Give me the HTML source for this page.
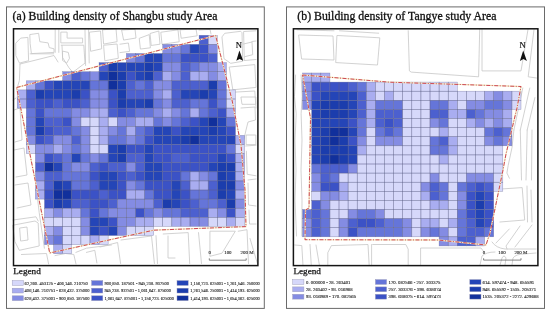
<!DOCTYPE html>
<html><head><meta charset="utf-8"><style>
html,body{margin:0;padding:0;background:#fff;width:550px;height:315px;overflow:hidden}
svg{display:block;filter:blur(0.35px)}
</style></head><body>
<svg width="550" height="315" viewBox="0 0 550 315">
<style>
.t{font-family:"Liberation Serif",serif;font-size:11.8px;fill:#111;stroke:#111;stroke-width:0.3}
.lgh{font-family:"Liberation Serif",serif;font-size:9.2px;fill:#111;stroke:#111;stroke-width:0.25}
.lg{font-family:"Liberation Serif",serif;font-size:4.7px;fill:#2a2a2a;stroke:#2a2a2a;stroke-width:0.12}
.na{font-family:"Liberation Serif",serif;font-size:8.6px;fill:#111;stroke:#111;stroke-width:0.2}
.sb{font-family:"Liberation Serif",serif;font-size:4.9px;fill:#222;stroke:#222;stroke-width:0.1}
.st{fill:none;stroke:#c6c6c6;stroke-width:0.8;stroke-linejoin:round;stroke-linecap:round}
</style>
<rect width="550" height="315" fill="#fff"/>
<!-- panels -->
<rect x="6.5" y="6.9" width="257.8" height="301.5" fill="none" stroke="#6a6a6a" stroke-width="1"/>
<rect x="286.5" y="6.9" width="258" height="301.5" fill="none" stroke="#6a6a6a" stroke-width="1"/>
<text x="12.5" y="19.6" class="t" textLength="205" lengthAdjust="spacingAndGlyphs">(a) Building density of Shangbu study Area</text>
<text x="297.3" y="19.6" class="t" textLength="199.2" lengthAdjust="spacingAndGlyphs">(b) Building density of Tangye study Area</text>
<!-- LEFT MAP -->
<g class="st"><path d="M16,42.9 L20.7,38.1 L27.9,37.4 L28.6,60.7 L19.5,63.1 L16,56 Z"/><path d="M30.2,34.5 L38.6,33.3 L39.8,41.7 L48.1,42.9 L49.3,47.6 L54,48.8 L54,52.4 L31.4,53.6 L30.2,44 Z"/><path d="M55.2,29.8 L55.2,52.4"/><path d="M58.8,29.8 L58.8,52.4"/><path d="M61.2,32.1 L67.1,32.1 L67.1,38.1 L82.6,38.1 L82.6,42.9 L61.2,42.9 Z"/><path d="M85,29.8 L85.6,65.5"/><path d="M88.6,29.8 L89.2,63"/><path d="M61.2,45.2 L83.8,45.2 L85,63.1 L72.8,72.3"/><path d="M62,45.5 L62.6,57.6 L69,67.8 L72.8,72.3"/><path d="M62.9,51.2 L68.3,52.4 L69.5,58.3 L66.7,63.1 L62.9,60.7 Z"/><path d="M89.8,32.1 L100.5,31 L101.7,48.8 L91,51.2 Z"/><path d="M102.9,29.8 L116,28.6 L117.1,41.7 L104,44 Z"/><path d="M104,45.2 L117.1,44 L118.3,58.3 L105.2,60.7 Z"/><path d="M20,64 L54,55.5 L58,62"/><path d="M20,64 L19.4,80.5 L17.5,86.9"/><path d="M30.2,53.8 L53.7,53.8"/><path d="M120,44.2 L128.4,43 L129.6,51.4 L120,52.6"/><path d="M139.6,38.2 L149.2,34.6 L150.4,47.8 L140.8,49 Z"/><path d="M150.4,33.4 L158.8,31 L160,44.2 L151.6,45.4 Z"/><path d="M161.2,32.2 L178,29.8 L179.2,41.8 L162.4,44.2 Z"/><path d="M180.4,29.8 L196,28.9 L197.2,35.8 L181.6,38.2 Z"/><path d="M199,30 L210,29.4 L211,34"/><path d="M122,30 L135,29.2 L136,38 L124,40 Z"/><path d="M222.7,36 L224.7,33.3 L240.7,31.3 L242,32.7 L242.7,61.3 L230.7,63.3 L224,58.7 L222,37.3 Z"/><path d="M243.6,32 L244.3,60"/><path d="M243.6,44 L252,42 L252.7,54.7 L244.7,56.7"/><path d="M244,31.5 L256,30.8"/><path d="M252,41.5 L256,41"/><path d="M244.5,60.5 L256,59.5"/><path d="M229.6,67 L254.8,64.6 L256,87.4 L233.2,89.8 Z"/><path d="M233.2,92.2 L254.8,91 L256,108"/><path d="M241.3,97 L255.8,97 L255.8,104.3 L242.4,104.3 Z"/><path d="M241,108 L255,107 L255.5,120 L248,122 L246,130 L244,139"/><path d="M246.5,135 L255.8,135 L255.8,144.6 L246.5,144.6 Z"/><path d="M245.7,146 L256,145.2"/><path d="M246.4,151.2 L247.2,174.3 L256,175.8"/><path d="M248,180 L256,179"/><path d="M248,183 L248.5,205 L256,206"/><path d="M249,210 L249.5,224 L256,224"/><path d="M13,100 L16,98"/><path d="M14,110 L20,108 L22,140 L15,142"/><path d="M14,150 L24,148 L27,175 L16,177"/><path d="M15,185 L28,183 L31,205 L17,208"/><path d="M37.7,200 L39.2,212.6 L44.4,248.2"/><path d="M13,220 L36,216.8 L38.2,221"/><path d="M13,225.2 L35,221 L38.2,223 L39.2,246 L19.3,250.3 L15.1,242 Z"/><path d="M20,228 L27,227 L28,240 L21,241 Z"/><path d="M21.4,254.5 L46.5,253.5 L48.6,264"/><path d="M55,255.6 L65.4,253.5 L73.8,254.5 L76,264"/><path d="M75.9,252.4 L86.4,248.2 L111.5,245"/><path d="M86.4,252.4 L94.8,250.3 L96.9,263"/><path d="M100,247 L117.6,242.5 L120.6,263.5"/><path d="M121,240 L151.5,236 L154.4,263.5"/><path d="M156,235.6 L157.5,263.5"/><path d="M163.2,234 L188.2,232.6 L189.7,263.5"/><path d="M168,236 L168,258 L175,258"/><path d="M198.5,232.6 L201.5,263.5"/><path d="M210.3,231.2 L235.3,231.2 L222,253.2 L210.3,256.2 Z"/><path d="M238.2,231.2 L247,229.7 L248.5,263.5"/><path d="M250,238.5 L257.4,263.5"/></g>
<g><rect x="199.10" y="35.30" width="9.10" height="9.10" fill="#4c60cf"/>
<rect x="208.19" y="35.30" width="9.10" height="9.10" fill="#d6d8fa"/>
<rect x="162.72" y="44.40" width="9.10" height="9.10" fill="#848ce3"/>
<rect x="171.81" y="44.40" width="9.10" height="9.10" fill="#848ce3"/>
<rect x="180.91" y="44.40" width="9.10" height="9.10" fill="#6575d9"/>
<rect x="190.00" y="44.40" width="9.10" height="9.10" fill="#2445b7"/>
<rect x="199.10" y="44.40" width="9.10" height="9.10" fill="#3b52c6"/>
<rect x="208.19" y="44.40" width="9.10" height="9.10" fill="#848ce3"/>
<rect x="126.34" y="53.50" width="9.10" height="9.10" fill="#848ce3"/>
<rect x="135.44" y="53.50" width="9.10" height="9.10" fill="#6575d9"/>
<rect x="144.53" y="53.50" width="9.10" height="9.10" fill="#2445b7"/>
<rect x="153.62" y="53.50" width="9.10" height="9.10" fill="#2445b7"/>
<rect x="162.72" y="53.50" width="9.10" height="9.10" fill="#6575d9"/>
<rect x="171.81" y="53.50" width="9.10" height="9.10" fill="#6575d9"/>
<rect x="180.91" y="53.50" width="9.10" height="9.10" fill="#3b52c6"/>
<rect x="190.00" y="53.50" width="9.10" height="9.10" fill="#3b52c6"/>
<rect x="199.10" y="53.50" width="9.10" height="9.10" fill="#3b52c6"/>
<rect x="208.19" y="53.50" width="9.10" height="9.10" fill="#4c60cf"/>
<rect x="99.06" y="62.60" width="9.10" height="9.10" fill="#4c60cf"/>
<rect x="108.15" y="62.60" width="9.10" height="9.10" fill="#1b3dad"/>
<rect x="117.25" y="62.60" width="9.10" height="9.10" fill="#2445b7"/>
<rect x="126.34" y="62.60" width="9.10" height="9.10" fill="#2445b7"/>
<rect x="135.44" y="62.60" width="9.10" height="9.10" fill="#2445b7"/>
<rect x="144.53" y="62.60" width="9.10" height="9.10" fill="#1b3dad"/>
<rect x="153.62" y="62.60" width="9.10" height="9.10" fill="#2445b7"/>
<rect x="162.72" y="62.60" width="9.10" height="9.10" fill="#848ce3"/>
<rect x="171.81" y="62.60" width="9.10" height="9.10" fill="#848ce3"/>
<rect x="180.91" y="62.60" width="9.10" height="9.10" fill="#4c60cf"/>
<rect x="190.00" y="62.60" width="9.10" height="9.10" fill="#6575d9"/>
<rect x="199.10" y="62.60" width="9.10" height="9.10" fill="#848ce3"/>
<rect x="208.19" y="62.60" width="9.10" height="9.10" fill="#848ce3"/>
<rect x="217.29" y="62.60" width="9.10" height="9.10" fill="#a9adf0"/>
<rect x="62.67" y="71.70" width="9.10" height="9.10" fill="#848ce3"/>
<rect x="71.77" y="71.70" width="9.10" height="9.10" fill="#4c60cf"/>
<rect x="80.87" y="71.70" width="9.10" height="9.10" fill="#6575d9"/>
<rect x="89.96" y="71.70" width="9.10" height="9.10" fill="#848ce3"/>
<rect x="99.06" y="71.70" width="9.10" height="9.10" fill="#2445b7"/>
<rect x="108.15" y="71.70" width="9.10" height="9.10" fill="#11309c"/>
<rect x="117.25" y="71.70" width="9.10" height="9.10" fill="#1b3dad"/>
<rect x="126.34" y="71.70" width="9.10" height="9.10" fill="#3b52c6"/>
<rect x="135.44" y="71.70" width="9.10" height="9.10" fill="#2445b7"/>
<rect x="144.53" y="71.70" width="9.10" height="9.10" fill="#1b3dad"/>
<rect x="153.62" y="71.70" width="9.10" height="9.10" fill="#4c60cf"/>
<rect x="162.72" y="71.70" width="9.10" height="9.10" fill="#a9adf0"/>
<rect x="171.81" y="71.70" width="9.10" height="9.10" fill="#848ce3"/>
<rect x="180.91" y="71.70" width="9.10" height="9.10" fill="#4c60cf"/>
<rect x="190.00" y="71.70" width="9.10" height="9.10" fill="#a9adf0"/>
<rect x="199.10" y="71.70" width="9.10" height="9.10" fill="#a9adf0"/>
<rect x="208.19" y="71.70" width="9.10" height="9.10" fill="#848ce3"/>
<rect x="217.29" y="71.70" width="9.10" height="9.10" fill="#a9adf0"/>
<rect x="26.30" y="80.80" width="9.10" height="9.10" fill="#a9adf0"/>
<rect x="35.39" y="80.80" width="9.10" height="9.10" fill="#6575d9"/>
<rect x="44.48" y="80.80" width="9.10" height="9.10" fill="#3b52c6"/>
<rect x="53.58" y="80.80" width="9.10" height="9.10" fill="#2445b7"/>
<rect x="62.67" y="80.80" width="9.10" height="9.10" fill="#2445b7"/>
<rect x="71.77" y="80.80" width="9.10" height="9.10" fill="#2445b7"/>
<rect x="80.87" y="80.80" width="9.10" height="9.10" fill="#2445b7"/>
<rect x="89.96" y="80.80" width="9.10" height="9.10" fill="#6575d9"/>
<rect x="99.06" y="80.80" width="9.10" height="9.10" fill="#6575d9"/>
<rect x="108.15" y="80.80" width="9.10" height="9.10" fill="#11309c"/>
<rect x="117.25" y="80.80" width="9.10" height="9.10" fill="#1b3dad"/>
<rect x="126.34" y="80.80" width="9.10" height="9.10" fill="#4c60cf"/>
<rect x="135.44" y="80.80" width="9.10" height="9.10" fill="#6575d9"/>
<rect x="144.53" y="80.80" width="9.10" height="9.10" fill="#4c60cf"/>
<rect x="153.62" y="80.80" width="9.10" height="9.10" fill="#848ce3"/>
<rect x="162.72" y="80.80" width="9.10" height="9.10" fill="#848ce3"/>
<rect x="171.81" y="80.80" width="9.10" height="9.10" fill="#4c60cf"/>
<rect x="180.91" y="80.80" width="9.10" height="9.10" fill="#4c60cf"/>
<rect x="190.00" y="80.80" width="9.10" height="9.10" fill="#4c60cf"/>
<rect x="199.10" y="80.80" width="9.10" height="9.10" fill="#4c60cf"/>
<rect x="208.19" y="80.80" width="9.10" height="9.10" fill="#1b3dad"/>
<rect x="217.29" y="80.80" width="9.10" height="9.10" fill="#6575d9"/>
<rect x="17.20" y="89.90" width="9.10" height="9.10" fill="#a9adf0"/>
<rect x="26.30" y="89.90" width="9.10" height="9.10" fill="#4c60cf"/>
<rect x="35.39" y="89.90" width="9.10" height="9.10" fill="#1b3dad"/>
<rect x="44.48" y="89.90" width="9.10" height="9.10" fill="#2445b7"/>
<rect x="53.58" y="89.90" width="9.10" height="9.10" fill="#2445b7"/>
<rect x="62.67" y="89.90" width="9.10" height="9.10" fill="#2445b7"/>
<rect x="71.77" y="89.90" width="9.10" height="9.10" fill="#1b3dad"/>
<rect x="80.87" y="89.90" width="9.10" height="9.10" fill="#3b52c6"/>
<rect x="89.96" y="89.90" width="9.10" height="9.10" fill="#848ce3"/>
<rect x="99.06" y="89.90" width="9.10" height="9.10" fill="#848ce3"/>
<rect x="108.15" y="89.90" width="9.10" height="9.10" fill="#3b52c6"/>
<rect x="117.25" y="89.90" width="9.10" height="9.10" fill="#1b3dad"/>
<rect x="126.34" y="89.90" width="9.10" height="9.10" fill="#4c60cf"/>
<rect x="135.44" y="89.90" width="9.10" height="9.10" fill="#4c60cf"/>
<rect x="144.53" y="89.90" width="9.10" height="9.10" fill="#4c60cf"/>
<rect x="153.62" y="89.90" width="9.10" height="9.10" fill="#848ce3"/>
<rect x="162.72" y="89.90" width="9.10" height="9.10" fill="#a9adf0"/>
<rect x="171.81" y="89.90" width="9.10" height="9.10" fill="#4c60cf"/>
<rect x="180.91" y="89.90" width="9.10" height="9.10" fill="#2445b7"/>
<rect x="190.00" y="89.90" width="9.10" height="9.10" fill="#2445b7"/>
<rect x="199.10" y="89.90" width="9.10" height="9.10" fill="#1b3dad"/>
<rect x="208.19" y="89.90" width="9.10" height="9.10" fill="#2445b7"/>
<rect x="217.29" y="89.90" width="9.10" height="9.10" fill="#6575d9"/>
<rect x="226.38" y="89.90" width="9.10" height="9.10" fill="#d6d8fa"/>
<rect x="17.20" y="99.00" width="9.10" height="9.10" fill="#a9adf0"/>
<rect x="26.30" y="99.00" width="9.10" height="9.10" fill="#4c60cf"/>
<rect x="35.39" y="99.00" width="9.10" height="9.10" fill="#3b52c6"/>
<rect x="44.48" y="99.00" width="9.10" height="9.10" fill="#3b52c6"/>
<rect x="53.58" y="99.00" width="9.10" height="9.10" fill="#4c60cf"/>
<rect x="62.67" y="99.00" width="9.10" height="9.10" fill="#3b52c6"/>
<rect x="71.77" y="99.00" width="9.10" height="9.10" fill="#3b52c6"/>
<rect x="80.87" y="99.00" width="9.10" height="9.10" fill="#4c60cf"/>
<rect x="89.96" y="99.00" width="9.10" height="9.10" fill="#848ce3"/>
<rect x="99.06" y="99.00" width="9.10" height="9.10" fill="#848ce3"/>
<rect x="108.15" y="99.00" width="9.10" height="9.10" fill="#3b52c6"/>
<rect x="117.25" y="99.00" width="9.10" height="9.10" fill="#1b3dad"/>
<rect x="126.34" y="99.00" width="9.10" height="9.10" fill="#2445b7"/>
<rect x="135.44" y="99.00" width="9.10" height="9.10" fill="#2445b7"/>
<rect x="144.53" y="99.00" width="9.10" height="9.10" fill="#1b3dad"/>
<rect x="153.62" y="99.00" width="9.10" height="9.10" fill="#6575d9"/>
<rect x="162.72" y="99.00" width="9.10" height="9.10" fill="#848ce3"/>
<rect x="171.81" y="99.00" width="9.10" height="9.10" fill="#4c60cf"/>
<rect x="180.91" y="99.00" width="9.10" height="9.10" fill="#4c60cf"/>
<rect x="190.00" y="99.00" width="9.10" height="9.10" fill="#6575d9"/>
<rect x="199.10" y="99.00" width="9.10" height="9.10" fill="#6575d9"/>
<rect x="208.19" y="99.00" width="9.10" height="9.10" fill="#3b52c6"/>
<rect x="217.29" y="99.00" width="9.10" height="9.10" fill="#6575d9"/>
<rect x="226.38" y="99.00" width="9.10" height="9.10" fill="#d6d8fa"/>
<rect x="26.30" y="108.10" width="9.10" height="9.10" fill="#6575d9"/>
<rect x="35.39" y="108.10" width="9.10" height="9.10" fill="#3b52c6"/>
<rect x="44.48" y="108.10" width="9.10" height="9.10" fill="#6575d9"/>
<rect x="53.58" y="108.10" width="9.10" height="9.10" fill="#6575d9"/>
<rect x="62.67" y="108.10" width="9.10" height="9.10" fill="#6575d9"/>
<rect x="71.77" y="108.10" width="9.10" height="9.10" fill="#848ce3"/>
<rect x="80.87" y="108.10" width="9.10" height="9.10" fill="#848ce3"/>
<rect x="89.96" y="108.10" width="9.10" height="9.10" fill="#a9adf0"/>
<rect x="99.06" y="108.10" width="9.10" height="9.10" fill="#a9adf0"/>
<rect x="108.15" y="108.10" width="9.10" height="9.10" fill="#4c60cf"/>
<rect x="117.25" y="108.10" width="9.10" height="9.10" fill="#3b52c6"/>
<rect x="126.34" y="108.10" width="9.10" height="9.10" fill="#4c60cf"/>
<rect x="135.44" y="108.10" width="9.10" height="9.10" fill="#6575d9"/>
<rect x="144.53" y="108.10" width="9.10" height="9.10" fill="#6575d9"/>
<rect x="153.62" y="108.10" width="9.10" height="9.10" fill="#848ce3"/>
<rect x="162.72" y="108.10" width="9.10" height="9.10" fill="#a9adf0"/>
<rect x="171.81" y="108.10" width="9.10" height="9.10" fill="#848ce3"/>
<rect x="180.91" y="108.10" width="9.10" height="9.10" fill="#6575d9"/>
<rect x="190.00" y="108.10" width="9.10" height="9.10" fill="#a9adf0"/>
<rect x="199.10" y="108.10" width="9.10" height="9.10" fill="#6575d9"/>
<rect x="208.19" y="108.10" width="9.10" height="9.10" fill="#4c60cf"/>
<rect x="217.29" y="108.10" width="9.10" height="9.10" fill="#3b52c6"/>
<rect x="226.38" y="108.10" width="9.10" height="9.10" fill="#a9adf0"/>
<rect x="26.30" y="117.20" width="9.10" height="9.10" fill="#6575d9"/>
<rect x="35.39" y="117.20" width="9.10" height="9.10" fill="#2445b7"/>
<rect x="44.48" y="117.20" width="9.10" height="9.10" fill="#4c60cf"/>
<rect x="53.58" y="117.20" width="9.10" height="9.10" fill="#4c60cf"/>
<rect x="62.67" y="117.20" width="9.10" height="9.10" fill="#3b52c6"/>
<rect x="71.77" y="117.20" width="9.10" height="9.10" fill="#848ce3"/>
<rect x="80.87" y="117.20" width="9.10" height="9.10" fill="#d6d8fa"/>
<rect x="89.96" y="117.20" width="9.10" height="9.10" fill="#d6d8fa"/>
<rect x="99.06" y="117.20" width="9.10" height="9.10" fill="#a9adf0"/>
<rect x="108.15" y="117.20" width="9.10" height="9.10" fill="#d6d8fa"/>
<rect x="117.25" y="117.20" width="9.10" height="9.10" fill="#848ce3"/>
<rect x="126.34" y="117.20" width="9.10" height="9.10" fill="#848ce3"/>
<rect x="135.44" y="117.20" width="9.10" height="9.10" fill="#a9adf0"/>
<rect x="144.53" y="117.20" width="9.10" height="9.10" fill="#a9adf0"/>
<rect x="153.62" y="117.20" width="9.10" height="9.10" fill="#6575d9"/>
<rect x="162.72" y="117.20" width="9.10" height="9.10" fill="#848ce3"/>
<rect x="171.81" y="117.20" width="9.10" height="9.10" fill="#6575d9"/>
<rect x="180.91" y="117.20" width="9.10" height="9.10" fill="#4c60cf"/>
<rect x="190.00" y="117.20" width="9.10" height="9.10" fill="#3b52c6"/>
<rect x="199.10" y="117.20" width="9.10" height="9.10" fill="#2445b7"/>
<rect x="208.19" y="117.20" width="9.10" height="9.10" fill="#11309c"/>
<rect x="217.29" y="117.20" width="9.10" height="9.10" fill="#2445b7"/>
<rect x="226.38" y="117.20" width="9.10" height="9.10" fill="#6575d9"/>
<rect x="26.30" y="126.30" width="9.10" height="9.10" fill="#6575d9"/>
<rect x="35.39" y="126.30" width="9.10" height="9.10" fill="#1b3dad"/>
<rect x="44.48" y="126.30" width="9.10" height="9.10" fill="#3b52c6"/>
<rect x="53.58" y="126.30" width="9.10" height="9.10" fill="#4c60cf"/>
<rect x="62.67" y="126.30" width="9.10" height="9.10" fill="#4c60cf"/>
<rect x="71.77" y="126.30" width="9.10" height="9.10" fill="#6575d9"/>
<rect x="80.87" y="126.30" width="9.10" height="9.10" fill="#848ce3"/>
<rect x="89.96" y="126.30" width="9.10" height="9.10" fill="#d6d8fa"/>
<rect x="99.06" y="126.30" width="9.10" height="9.10" fill="#a9adf0"/>
<rect x="108.15" y="126.30" width="9.10" height="9.10" fill="#848ce3"/>
<rect x="117.25" y="126.30" width="9.10" height="9.10" fill="#6575d9"/>
<rect x="126.34" y="126.30" width="9.10" height="9.10" fill="#a9adf0"/>
<rect x="135.44" y="126.30" width="9.10" height="9.10" fill="#6575d9"/>
<rect x="144.53" y="126.30" width="9.10" height="9.10" fill="#4c60cf"/>
<rect x="153.62" y="126.30" width="9.10" height="9.10" fill="#2445b7"/>
<rect x="162.72" y="126.30" width="9.10" height="9.10" fill="#2445b7"/>
<rect x="171.81" y="126.30" width="9.10" height="9.10" fill="#3b52c6"/>
<rect x="180.91" y="126.30" width="9.10" height="9.10" fill="#2445b7"/>
<rect x="190.00" y="126.30" width="9.10" height="9.10" fill="#2445b7"/>
<rect x="199.10" y="126.30" width="9.10" height="9.10" fill="#2445b7"/>
<rect x="208.19" y="126.30" width="9.10" height="9.10" fill="#1b3dad"/>
<rect x="217.29" y="126.30" width="9.10" height="9.10" fill="#2445b7"/>
<rect x="226.38" y="126.30" width="9.10" height="9.10" fill="#3b52c6"/>
<rect x="26.30" y="135.40" width="9.10" height="9.10" fill="#848ce3"/>
<rect x="35.39" y="135.40" width="9.10" height="9.10" fill="#3b52c6"/>
<rect x="44.48" y="135.40" width="9.10" height="9.10" fill="#4c60cf"/>
<rect x="53.58" y="135.40" width="9.10" height="9.10" fill="#848ce3"/>
<rect x="62.67" y="135.40" width="9.10" height="9.10" fill="#848ce3"/>
<rect x="71.77" y="135.40" width="9.10" height="9.10" fill="#4c60cf"/>
<rect x="80.87" y="135.40" width="9.10" height="9.10" fill="#848ce3"/>
<rect x="89.96" y="135.40" width="9.10" height="9.10" fill="#d6d8fa"/>
<rect x="99.06" y="135.40" width="9.10" height="9.10" fill="#a9adf0"/>
<rect x="108.15" y="135.40" width="9.10" height="9.10" fill="#6575d9"/>
<rect x="117.25" y="135.40" width="9.10" height="9.10" fill="#6575d9"/>
<rect x="126.34" y="135.40" width="9.10" height="9.10" fill="#848ce3"/>
<rect x="135.44" y="135.40" width="9.10" height="9.10" fill="#6575d9"/>
<rect x="144.53" y="135.40" width="9.10" height="9.10" fill="#3b52c6"/>
<rect x="153.62" y="135.40" width="9.10" height="9.10" fill="#2445b7"/>
<rect x="162.72" y="135.40" width="9.10" height="9.10" fill="#2445b7"/>
<rect x="171.81" y="135.40" width="9.10" height="9.10" fill="#2445b7"/>
<rect x="180.91" y="135.40" width="9.10" height="9.10" fill="#1b3dad"/>
<rect x="190.00" y="135.40" width="9.10" height="9.10" fill="#11309c"/>
<rect x="199.10" y="135.40" width="9.10" height="9.10" fill="#2445b7"/>
<rect x="208.19" y="135.40" width="9.10" height="9.10" fill="#2445b7"/>
<rect x="217.29" y="135.40" width="9.10" height="9.10" fill="#2445b7"/>
<rect x="226.38" y="135.40" width="9.10" height="9.10" fill="#2445b7"/>
<rect x="235.48" y="135.40" width="9.10" height="9.10" fill="#a9adf0"/>
<rect x="26.30" y="144.50" width="9.10" height="9.10" fill="#d6d8fa"/>
<rect x="35.39" y="144.50" width="9.10" height="9.10" fill="#848ce3"/>
<rect x="44.48" y="144.50" width="9.10" height="9.10" fill="#848ce3"/>
<rect x="53.58" y="144.50" width="9.10" height="9.10" fill="#a9adf0"/>
<rect x="62.67" y="144.50" width="9.10" height="9.10" fill="#848ce3"/>
<rect x="71.77" y="144.50" width="9.10" height="9.10" fill="#6575d9"/>
<rect x="80.87" y="144.50" width="9.10" height="9.10" fill="#848ce3"/>
<rect x="89.96" y="144.50" width="9.10" height="9.10" fill="#d6d8fa"/>
<rect x="99.06" y="144.50" width="9.10" height="9.10" fill="#d6d8fa"/>
<rect x="108.15" y="144.50" width="9.10" height="9.10" fill="#2445b7"/>
<rect x="117.25" y="144.50" width="9.10" height="9.10" fill="#1b3dad"/>
<rect x="126.34" y="144.50" width="9.10" height="9.10" fill="#3b52c6"/>
<rect x="135.44" y="144.50" width="9.10" height="9.10" fill="#3b52c6"/>
<rect x="144.53" y="144.50" width="9.10" height="9.10" fill="#2445b7"/>
<rect x="153.62" y="144.50" width="9.10" height="9.10" fill="#3b52c6"/>
<rect x="162.72" y="144.50" width="9.10" height="9.10" fill="#3b52c6"/>
<rect x="171.81" y="144.50" width="9.10" height="9.10" fill="#3b52c6"/>
<rect x="180.91" y="144.50" width="9.10" height="9.10" fill="#3b52c6"/>
<rect x="190.00" y="144.50" width="9.10" height="9.10" fill="#3b52c6"/>
<rect x="199.10" y="144.50" width="9.10" height="9.10" fill="#3b52c6"/>
<rect x="208.19" y="144.50" width="9.10" height="9.10" fill="#3b52c6"/>
<rect x="217.29" y="144.50" width="9.10" height="9.10" fill="#3b52c6"/>
<rect x="226.38" y="144.50" width="9.10" height="9.10" fill="#6575d9"/>
<rect x="235.48" y="144.50" width="9.10" height="9.10" fill="#d6d8fa"/>
<rect x="35.39" y="153.60" width="9.10" height="9.10" fill="#848ce3"/>
<rect x="44.48" y="153.60" width="9.10" height="9.10" fill="#3b52c6"/>
<rect x="53.58" y="153.60" width="9.10" height="9.10" fill="#4c60cf"/>
<rect x="62.67" y="153.60" width="9.10" height="9.10" fill="#6575d9"/>
<rect x="71.77" y="153.60" width="9.10" height="9.10" fill="#2445b7"/>
<rect x="80.87" y="153.60" width="9.10" height="9.10" fill="#6575d9"/>
<rect x="89.96" y="153.60" width="9.10" height="9.10" fill="#848ce3"/>
<rect x="99.06" y="153.60" width="9.10" height="9.10" fill="#6575d9"/>
<rect x="108.15" y="153.60" width="9.10" height="9.10" fill="#2445b7"/>
<rect x="117.25" y="153.60" width="9.10" height="9.10" fill="#1b3dad"/>
<rect x="126.34" y="153.60" width="9.10" height="9.10" fill="#4c60cf"/>
<rect x="135.44" y="153.60" width="9.10" height="9.10" fill="#4c60cf"/>
<rect x="144.53" y="153.60" width="9.10" height="9.10" fill="#2445b7"/>
<rect x="153.62" y="153.60" width="9.10" height="9.10" fill="#3b52c6"/>
<rect x="162.72" y="153.60" width="9.10" height="9.10" fill="#3b52c6"/>
<rect x="171.81" y="153.60" width="9.10" height="9.10" fill="#4c60cf"/>
<rect x="180.91" y="153.60" width="9.10" height="9.10" fill="#4c60cf"/>
<rect x="190.00" y="153.60" width="9.10" height="9.10" fill="#3b52c6"/>
<rect x="199.10" y="153.60" width="9.10" height="9.10" fill="#3b52c6"/>
<rect x="208.19" y="153.60" width="9.10" height="9.10" fill="#3b52c6"/>
<rect x="217.29" y="153.60" width="9.10" height="9.10" fill="#2445b7"/>
<rect x="226.38" y="153.60" width="9.10" height="9.10" fill="#3b52c6"/>
<rect x="235.48" y="153.60" width="9.10" height="9.10" fill="#a9adf0"/>
<rect x="35.39" y="162.70" width="9.10" height="9.10" fill="#4c60cf"/>
<rect x="44.48" y="162.70" width="9.10" height="9.10" fill="#11309c"/>
<rect x="53.58" y="162.70" width="9.10" height="9.10" fill="#2445b7"/>
<rect x="62.67" y="162.70" width="9.10" height="9.10" fill="#6575d9"/>
<rect x="71.77" y="162.70" width="9.10" height="9.10" fill="#848ce3"/>
<rect x="80.87" y="162.70" width="9.10" height="9.10" fill="#848ce3"/>
<rect x="89.96" y="162.70" width="9.10" height="9.10" fill="#4c60cf"/>
<rect x="99.06" y="162.70" width="9.10" height="9.10" fill="#3b52c6"/>
<rect x="108.15" y="162.70" width="9.10" height="9.10" fill="#4c60cf"/>
<rect x="117.25" y="162.70" width="9.10" height="9.10" fill="#4c60cf"/>
<rect x="126.34" y="162.70" width="9.10" height="9.10" fill="#848ce3"/>
<rect x="135.44" y="162.70" width="9.10" height="9.10" fill="#4c60cf"/>
<rect x="144.53" y="162.70" width="9.10" height="9.10" fill="#2445b7"/>
<rect x="153.62" y="162.70" width="9.10" height="9.10" fill="#2445b7"/>
<rect x="162.72" y="162.70" width="9.10" height="9.10" fill="#3b52c6"/>
<rect x="171.81" y="162.70" width="9.10" height="9.10" fill="#3b52c6"/>
<rect x="180.91" y="162.70" width="9.10" height="9.10" fill="#3b52c6"/>
<rect x="190.00" y="162.70" width="9.10" height="9.10" fill="#3b52c6"/>
<rect x="199.10" y="162.70" width="9.10" height="9.10" fill="#3b52c6"/>
<rect x="208.19" y="162.70" width="9.10" height="9.10" fill="#2445b7"/>
<rect x="217.29" y="162.70" width="9.10" height="9.10" fill="#1b3dad"/>
<rect x="226.38" y="162.70" width="9.10" height="9.10" fill="#1b3dad"/>
<rect x="235.48" y="162.70" width="9.10" height="9.10" fill="#a9adf0"/>
<rect x="35.39" y="171.80" width="9.10" height="9.10" fill="#848ce3"/>
<rect x="44.48" y="171.80" width="9.10" height="9.10" fill="#4c60cf"/>
<rect x="53.58" y="171.80" width="9.10" height="9.10" fill="#4c60cf"/>
<rect x="62.67" y="171.80" width="9.10" height="9.10" fill="#6575d9"/>
<rect x="71.77" y="171.80" width="9.10" height="9.10" fill="#6575d9"/>
<rect x="80.87" y="171.80" width="9.10" height="9.10" fill="#6575d9"/>
<rect x="89.96" y="171.80" width="9.10" height="9.10" fill="#3b52c6"/>
<rect x="99.06" y="171.80" width="9.10" height="9.10" fill="#2445b7"/>
<rect x="108.15" y="171.80" width="9.10" height="9.10" fill="#2445b7"/>
<rect x="117.25" y="171.80" width="9.10" height="9.10" fill="#3b52c6"/>
<rect x="126.34" y="171.80" width="9.10" height="9.10" fill="#4c60cf"/>
<rect x="135.44" y="171.80" width="9.10" height="9.10" fill="#3b52c6"/>
<rect x="144.53" y="171.80" width="9.10" height="9.10" fill="#2445b7"/>
<rect x="153.62" y="171.80" width="9.10" height="9.10" fill="#2445b7"/>
<rect x="162.72" y="171.80" width="9.10" height="9.10" fill="#3b52c6"/>
<rect x="171.81" y="171.80" width="9.10" height="9.10" fill="#3b52c6"/>
<rect x="180.91" y="171.80" width="9.10" height="9.10" fill="#6575d9"/>
<rect x="190.00" y="171.80" width="9.10" height="9.10" fill="#a9adf0"/>
<rect x="199.10" y="171.80" width="9.10" height="9.10" fill="#848ce3"/>
<rect x="208.19" y="171.80" width="9.10" height="9.10" fill="#6575d9"/>
<rect x="217.29" y="171.80" width="9.10" height="9.10" fill="#1b3dad"/>
<rect x="226.38" y="171.80" width="9.10" height="9.10" fill="#2445b7"/>
<rect x="235.48" y="171.80" width="9.10" height="9.10" fill="#a9adf0"/>
<rect x="35.39" y="180.90" width="9.10" height="9.10" fill="#a9adf0"/>
<rect x="44.48" y="180.90" width="9.10" height="9.10" fill="#4c60cf"/>
<rect x="53.58" y="180.90" width="9.10" height="9.10" fill="#1b3dad"/>
<rect x="62.67" y="180.90" width="9.10" height="9.10" fill="#2445b7"/>
<rect x="71.77" y="180.90" width="9.10" height="9.10" fill="#6575d9"/>
<rect x="80.87" y="180.90" width="9.10" height="9.10" fill="#6575d9"/>
<rect x="89.96" y="180.90" width="9.10" height="9.10" fill="#4c60cf"/>
<rect x="99.06" y="180.90" width="9.10" height="9.10" fill="#2445b7"/>
<rect x="108.15" y="180.90" width="9.10" height="9.10" fill="#2445b7"/>
<rect x="117.25" y="180.90" width="9.10" height="9.10" fill="#3b52c6"/>
<rect x="126.34" y="180.90" width="9.10" height="9.10" fill="#848ce3"/>
<rect x="135.44" y="180.90" width="9.10" height="9.10" fill="#6575d9"/>
<rect x="144.53" y="180.90" width="9.10" height="9.10" fill="#3b52c6"/>
<rect x="153.62" y="180.90" width="9.10" height="9.10" fill="#3b52c6"/>
<rect x="162.72" y="180.90" width="9.10" height="9.10" fill="#3b52c6"/>
<rect x="171.81" y="180.90" width="9.10" height="9.10" fill="#2445b7"/>
<rect x="180.91" y="180.90" width="9.10" height="9.10" fill="#4c60cf"/>
<rect x="190.00" y="180.90" width="9.10" height="9.10" fill="#a9adf0"/>
<rect x="199.10" y="180.90" width="9.10" height="9.10" fill="#a9adf0"/>
<rect x="208.19" y="180.90" width="9.10" height="9.10" fill="#4c60cf"/>
<rect x="217.29" y="180.90" width="9.10" height="9.10" fill="#1b3dad"/>
<rect x="226.38" y="180.90" width="9.10" height="9.10" fill="#1b3dad"/>
<rect x="235.48" y="180.90" width="9.10" height="9.10" fill="#848ce3"/>
<rect x="35.39" y="190.00" width="9.10" height="9.10" fill="#a9adf0"/>
<rect x="44.48" y="190.00" width="9.10" height="9.10" fill="#3b52c6"/>
<rect x="53.58" y="190.00" width="9.10" height="9.10" fill="#11309c"/>
<rect x="62.67" y="190.00" width="9.10" height="9.10" fill="#11309c"/>
<rect x="71.77" y="190.00" width="9.10" height="9.10" fill="#3b52c6"/>
<rect x="80.87" y="190.00" width="9.10" height="9.10" fill="#3b52c6"/>
<rect x="89.96" y="190.00" width="9.10" height="9.10" fill="#3b52c6"/>
<rect x="99.06" y="190.00" width="9.10" height="9.10" fill="#4c60cf"/>
<rect x="108.15" y="190.00" width="9.10" height="9.10" fill="#3b52c6"/>
<rect x="117.25" y="190.00" width="9.10" height="9.10" fill="#3b52c6"/>
<rect x="126.34" y="190.00" width="9.10" height="9.10" fill="#a9adf0"/>
<rect x="135.44" y="190.00" width="9.10" height="9.10" fill="#a9adf0"/>
<rect x="144.53" y="190.00" width="9.10" height="9.10" fill="#6575d9"/>
<rect x="153.62" y="190.00" width="9.10" height="9.10" fill="#3b52c6"/>
<rect x="162.72" y="190.00" width="9.10" height="9.10" fill="#3b52c6"/>
<rect x="171.81" y="190.00" width="9.10" height="9.10" fill="#2445b7"/>
<rect x="180.91" y="190.00" width="9.10" height="9.10" fill="#3b52c6"/>
<rect x="190.00" y="190.00" width="9.10" height="9.10" fill="#6575d9"/>
<rect x="199.10" y="190.00" width="9.10" height="9.10" fill="#6575d9"/>
<rect x="208.19" y="190.00" width="9.10" height="9.10" fill="#4c60cf"/>
<rect x="217.29" y="190.00" width="9.10" height="9.10" fill="#1b3dad"/>
<rect x="226.38" y="190.00" width="9.10" height="9.10" fill="#2445b7"/>
<rect x="235.48" y="190.00" width="9.10" height="9.10" fill="#a9adf0"/>
<rect x="44.48" y="199.10" width="9.10" height="9.10" fill="#3b52c6"/>
<rect x="53.58" y="199.10" width="9.10" height="9.10" fill="#1b3dad"/>
<rect x="62.67" y="199.10" width="9.10" height="9.10" fill="#2445b7"/>
<rect x="71.77" y="199.10" width="9.10" height="9.10" fill="#4c60cf"/>
<rect x="80.87" y="199.10" width="9.10" height="9.10" fill="#4c60cf"/>
<rect x="89.96" y="199.10" width="9.10" height="9.10" fill="#3b52c6"/>
<rect x="99.06" y="199.10" width="9.10" height="9.10" fill="#3b52c6"/>
<rect x="108.15" y="199.10" width="9.10" height="9.10" fill="#4c60cf"/>
<rect x="117.25" y="199.10" width="9.10" height="9.10" fill="#848ce3"/>
<rect x="126.34" y="199.10" width="9.10" height="9.10" fill="#848ce3"/>
<rect x="135.44" y="199.10" width="9.10" height="9.10" fill="#848ce3"/>
<rect x="144.53" y="199.10" width="9.10" height="9.10" fill="#848ce3"/>
<rect x="153.62" y="199.10" width="9.10" height="9.10" fill="#4c60cf"/>
<rect x="162.72" y="199.10" width="9.10" height="9.10" fill="#1b3dad"/>
<rect x="171.81" y="199.10" width="9.10" height="9.10" fill="#2445b7"/>
<rect x="180.91" y="199.10" width="9.10" height="9.10" fill="#3b52c6"/>
<rect x="190.00" y="199.10" width="9.10" height="9.10" fill="#4c60cf"/>
<rect x="199.10" y="199.10" width="9.10" height="9.10" fill="#6575d9"/>
<rect x="208.19" y="199.10" width="9.10" height="9.10" fill="#6575d9"/>
<rect x="217.29" y="199.10" width="9.10" height="9.10" fill="#4c60cf"/>
<rect x="226.38" y="199.10" width="9.10" height="9.10" fill="#1b3dad"/>
<rect x="235.48" y="199.10" width="9.10" height="9.10" fill="#848ce3"/>
<rect x="44.48" y="208.20" width="9.10" height="9.10" fill="#a9adf0"/>
<rect x="53.58" y="208.20" width="9.10" height="9.10" fill="#848ce3"/>
<rect x="62.67" y="208.20" width="9.10" height="9.10" fill="#a9adf0"/>
<rect x="71.77" y="208.20" width="9.10" height="9.10" fill="#a9adf0"/>
<rect x="80.87" y="208.20" width="9.10" height="9.10" fill="#6575d9"/>
<rect x="89.96" y="208.20" width="9.10" height="9.10" fill="#3b52c6"/>
<rect x="99.06" y="208.20" width="9.10" height="9.10" fill="#6575d9"/>
<rect x="108.15" y="208.20" width="9.10" height="9.10" fill="#848ce3"/>
<rect x="117.25" y="208.20" width="9.10" height="9.10" fill="#848ce3"/>
<rect x="126.34" y="208.20" width="9.10" height="9.10" fill="#848ce3"/>
<rect x="135.44" y="208.20" width="9.10" height="9.10" fill="#3b52c6"/>
<rect x="144.53" y="208.20" width="9.10" height="9.10" fill="#6575d9"/>
<rect x="153.62" y="208.20" width="9.10" height="9.10" fill="#848ce3"/>
<rect x="162.72" y="208.20" width="9.10" height="9.10" fill="#6575d9"/>
<rect x="171.81" y="208.20" width="9.10" height="9.10" fill="#6575d9"/>
<rect x="180.91" y="208.20" width="9.10" height="9.10" fill="#4c60cf"/>
<rect x="190.00" y="208.20" width="9.10" height="9.10" fill="#4c60cf"/>
<rect x="199.10" y="208.20" width="9.10" height="9.10" fill="#4c60cf"/>
<rect x="208.19" y="208.20" width="9.10" height="9.10" fill="#a9adf0"/>
<rect x="217.29" y="208.20" width="9.10" height="9.10" fill="#848ce3"/>
<rect x="226.38" y="208.20" width="9.10" height="9.10" fill="#3b52c6"/>
<rect x="235.48" y="208.20" width="9.10" height="9.10" fill="#a9adf0"/>
<rect x="44.48" y="217.30" width="9.10" height="9.10" fill="#d6d8fa"/>
<rect x="53.58" y="217.30" width="9.10" height="9.10" fill="#d6d8fa"/>
<rect x="62.67" y="217.30" width="9.10" height="9.10" fill="#d6d8fa"/>
<rect x="71.77" y="217.30" width="9.10" height="9.10" fill="#d6d8fa"/>
<rect x="80.87" y="217.30" width="9.10" height="9.10" fill="#848ce3"/>
<rect x="89.96" y="217.30" width="9.10" height="9.10" fill="#2445b7"/>
<rect x="99.06" y="217.30" width="9.10" height="9.10" fill="#2445b7"/>
<rect x="108.15" y="217.30" width="9.10" height="9.10" fill="#3b52c6"/>
<rect x="117.25" y="217.30" width="9.10" height="9.10" fill="#848ce3"/>
<rect x="126.34" y="217.30" width="9.10" height="9.10" fill="#848ce3"/>
<rect x="135.44" y="217.30" width="9.10" height="9.10" fill="#a9adf0"/>
<rect x="144.53" y="217.30" width="9.10" height="9.10" fill="#a9adf0"/>
<rect x="153.62" y="217.30" width="9.10" height="9.10" fill="#d6d8fa"/>
<rect x="162.72" y="217.30" width="9.10" height="9.10" fill="#d6d8fa"/>
<rect x="171.81" y="217.30" width="9.10" height="9.10" fill="#a9adf0"/>
<rect x="180.91" y="217.30" width="9.10" height="9.10" fill="#a9adf0"/>
<rect x="190.00" y="217.30" width="9.10" height="9.10" fill="#848ce3"/>
<rect x="199.10" y="217.30" width="9.10" height="9.10" fill="#848ce3"/>
<rect x="208.19" y="217.30" width="9.10" height="9.10" fill="#d6d8fa"/>
<rect x="217.29" y="217.30" width="9.10" height="9.10" fill="#d6d8fa"/>
<rect x="226.38" y="217.30" width="9.10" height="9.10" fill="#a9adf0"/>
<rect x="235.48" y="217.30" width="9.10" height="9.10" fill="#d6d8fa"/>
<rect x="44.48" y="226.40" width="9.10" height="9.10" fill="#a9adf0"/>
<rect x="53.58" y="226.40" width="9.10" height="9.10" fill="#848ce3"/>
<rect x="62.67" y="226.40" width="9.10" height="9.10" fill="#d6d8fa"/>
<rect x="71.77" y="226.40" width="9.10" height="9.10" fill="#d6d8fa"/>
<rect x="80.87" y="226.40" width="9.10" height="9.10" fill="#848ce3"/>
<rect x="89.96" y="226.40" width="9.10" height="9.10" fill="#2445b7"/>
<rect x="99.06" y="226.40" width="9.10" height="9.10" fill="#3b52c6"/>
<rect x="108.15" y="226.40" width="9.10" height="9.10" fill="#2445b7"/>
<rect x="117.25" y="226.40" width="9.10" height="9.10" fill="#848ce3"/>
<rect x="126.34" y="226.40" width="9.10" height="9.10" fill="#d6d8fa"/>
<rect x="135.44" y="226.40" width="9.10" height="9.10" fill="#d6d8fa"/>
<rect x="144.53" y="226.40" width="9.10" height="9.10" fill="#d6d8fa"/>
<rect x="44.48" y="235.50" width="9.10" height="9.10" fill="#848ce3"/>
<rect x="53.58" y="235.50" width="9.10" height="9.10" fill="#6575d9"/>
<rect x="62.67" y="235.50" width="9.10" height="9.10" fill="#d6d8fa"/>
<rect x="71.77" y="235.50" width="9.10" height="9.10" fill="#d6d8fa"/>
<rect x="80.87" y="235.50" width="9.10" height="9.10" fill="#d6d8fa"/>
<rect x="89.96" y="235.50" width="9.10" height="9.10" fill="#a9adf0"/>
<rect x="99.06" y="235.50" width="9.10" height="9.10" fill="#d6d8fa"/>
<rect x="53.58" y="244.60" width="9.10" height="9.10" fill="#a9adf0"/>
<rect x="62.67" y="244.60" width="9.10" height="9.10" fill="#d6d8fa"/></g>
<g fill="none" stroke="#5e628c" stroke-opacity="0.6" stroke-width="0.5"><rect x="199.10" y="35.30" width="9.10" height="9.10"/>
<rect x="208.19" y="35.30" width="9.10" height="9.10"/>
<rect x="162.72" y="44.40" width="9.10" height="9.10"/>
<rect x="171.81" y="44.40" width="9.10" height="9.10"/>
<rect x="180.91" y="44.40" width="9.10" height="9.10"/>
<rect x="190.00" y="44.40" width="9.10" height="9.10"/>
<rect x="199.10" y="44.40" width="9.10" height="9.10"/>
<rect x="208.19" y="44.40" width="9.10" height="9.10"/>
<rect x="126.34" y="53.50" width="9.10" height="9.10"/>
<rect x="135.44" y="53.50" width="9.10" height="9.10"/>
<rect x="144.53" y="53.50" width="9.10" height="9.10"/>
<rect x="153.62" y="53.50" width="9.10" height="9.10"/>
<rect x="162.72" y="53.50" width="9.10" height="9.10"/>
<rect x="171.81" y="53.50" width="9.10" height="9.10"/>
<rect x="180.91" y="53.50" width="9.10" height="9.10"/>
<rect x="190.00" y="53.50" width="9.10" height="9.10"/>
<rect x="199.10" y="53.50" width="9.10" height="9.10"/>
<rect x="208.19" y="53.50" width="9.10" height="9.10"/>
<rect x="99.06" y="62.60" width="9.10" height="9.10"/>
<rect x="108.15" y="62.60" width="9.10" height="9.10"/>
<rect x="117.25" y="62.60" width="9.10" height="9.10"/>
<rect x="126.34" y="62.60" width="9.10" height="9.10"/>
<rect x="135.44" y="62.60" width="9.10" height="9.10"/>
<rect x="144.53" y="62.60" width="9.10" height="9.10"/>
<rect x="153.62" y="62.60" width="9.10" height="9.10"/>
<rect x="162.72" y="62.60" width="9.10" height="9.10"/>
<rect x="171.81" y="62.60" width="9.10" height="9.10"/>
<rect x="180.91" y="62.60" width="9.10" height="9.10"/>
<rect x="190.00" y="62.60" width="9.10" height="9.10"/>
<rect x="199.10" y="62.60" width="9.10" height="9.10"/>
<rect x="208.19" y="62.60" width="9.10" height="9.10"/>
<rect x="217.29" y="62.60" width="9.10" height="9.10"/>
<rect x="62.67" y="71.70" width="9.10" height="9.10"/>
<rect x="71.77" y="71.70" width="9.10" height="9.10"/>
<rect x="80.87" y="71.70" width="9.10" height="9.10"/>
<rect x="89.96" y="71.70" width="9.10" height="9.10"/>
<rect x="99.06" y="71.70" width="9.10" height="9.10"/>
<rect x="108.15" y="71.70" width="9.10" height="9.10"/>
<rect x="117.25" y="71.70" width="9.10" height="9.10"/>
<rect x="126.34" y="71.70" width="9.10" height="9.10"/>
<rect x="135.44" y="71.70" width="9.10" height="9.10"/>
<rect x="144.53" y="71.70" width="9.10" height="9.10"/>
<rect x="153.62" y="71.70" width="9.10" height="9.10"/>
<rect x="162.72" y="71.70" width="9.10" height="9.10"/>
<rect x="171.81" y="71.70" width="9.10" height="9.10"/>
<rect x="180.91" y="71.70" width="9.10" height="9.10"/>
<rect x="190.00" y="71.70" width="9.10" height="9.10"/>
<rect x="199.10" y="71.70" width="9.10" height="9.10"/>
<rect x="208.19" y="71.70" width="9.10" height="9.10"/>
<rect x="217.29" y="71.70" width="9.10" height="9.10"/>
<rect x="26.30" y="80.80" width="9.10" height="9.10"/>
<rect x="35.39" y="80.80" width="9.10" height="9.10"/>
<rect x="44.48" y="80.80" width="9.10" height="9.10"/>
<rect x="53.58" y="80.80" width="9.10" height="9.10"/>
<rect x="62.67" y="80.80" width="9.10" height="9.10"/>
<rect x="71.77" y="80.80" width="9.10" height="9.10"/>
<rect x="80.87" y="80.80" width="9.10" height="9.10"/>
<rect x="89.96" y="80.80" width="9.10" height="9.10"/>
<rect x="99.06" y="80.80" width="9.10" height="9.10"/>
<rect x="108.15" y="80.80" width="9.10" height="9.10"/>
<rect x="117.25" y="80.80" width="9.10" height="9.10"/>
<rect x="126.34" y="80.80" width="9.10" height="9.10"/>
<rect x="135.44" y="80.80" width="9.10" height="9.10"/>
<rect x="144.53" y="80.80" width="9.10" height="9.10"/>
<rect x="153.62" y="80.80" width="9.10" height="9.10"/>
<rect x="162.72" y="80.80" width="9.10" height="9.10"/>
<rect x="171.81" y="80.80" width="9.10" height="9.10"/>
<rect x="180.91" y="80.80" width="9.10" height="9.10"/>
<rect x="190.00" y="80.80" width="9.10" height="9.10"/>
<rect x="199.10" y="80.80" width="9.10" height="9.10"/>
<rect x="208.19" y="80.80" width="9.10" height="9.10"/>
<rect x="217.29" y="80.80" width="9.10" height="9.10"/>
<rect x="17.20" y="89.90" width="9.10" height="9.10"/>
<rect x="26.30" y="89.90" width="9.10" height="9.10"/>
<rect x="35.39" y="89.90" width="9.10" height="9.10"/>
<rect x="44.48" y="89.90" width="9.10" height="9.10"/>
<rect x="53.58" y="89.90" width="9.10" height="9.10"/>
<rect x="62.67" y="89.90" width="9.10" height="9.10"/>
<rect x="71.77" y="89.90" width="9.10" height="9.10"/>
<rect x="80.87" y="89.90" width="9.10" height="9.10"/>
<rect x="89.96" y="89.90" width="9.10" height="9.10"/>
<rect x="99.06" y="89.90" width="9.10" height="9.10"/>
<rect x="108.15" y="89.90" width="9.10" height="9.10"/>
<rect x="117.25" y="89.90" width="9.10" height="9.10"/>
<rect x="126.34" y="89.90" width="9.10" height="9.10"/>
<rect x="135.44" y="89.90" width="9.10" height="9.10"/>
<rect x="144.53" y="89.90" width="9.10" height="9.10"/>
<rect x="153.62" y="89.90" width="9.10" height="9.10"/>
<rect x="162.72" y="89.90" width="9.10" height="9.10"/>
<rect x="171.81" y="89.90" width="9.10" height="9.10"/>
<rect x="180.91" y="89.90" width="9.10" height="9.10"/>
<rect x="190.00" y="89.90" width="9.10" height="9.10"/>
<rect x="199.10" y="89.90" width="9.10" height="9.10"/>
<rect x="208.19" y="89.90" width="9.10" height="9.10"/>
<rect x="217.29" y="89.90" width="9.10" height="9.10"/>
<rect x="226.38" y="89.90" width="9.10" height="9.10"/>
<rect x="17.20" y="99.00" width="9.10" height="9.10"/>
<rect x="26.30" y="99.00" width="9.10" height="9.10"/>
<rect x="35.39" y="99.00" width="9.10" height="9.10"/>
<rect x="44.48" y="99.00" width="9.10" height="9.10"/>
<rect x="53.58" y="99.00" width="9.10" height="9.10"/>
<rect x="62.67" y="99.00" width="9.10" height="9.10"/>
<rect x="71.77" y="99.00" width="9.10" height="9.10"/>
<rect x="80.87" y="99.00" width="9.10" height="9.10"/>
<rect x="89.96" y="99.00" width="9.10" height="9.10"/>
<rect x="99.06" y="99.00" width="9.10" height="9.10"/>
<rect x="108.15" y="99.00" width="9.10" height="9.10"/>
<rect x="117.25" y="99.00" width="9.10" height="9.10"/>
<rect x="126.34" y="99.00" width="9.10" height="9.10"/>
<rect x="135.44" y="99.00" width="9.10" height="9.10"/>
<rect x="144.53" y="99.00" width="9.10" height="9.10"/>
<rect x="153.62" y="99.00" width="9.10" height="9.10"/>
<rect x="162.72" y="99.00" width="9.10" height="9.10"/>
<rect x="171.81" y="99.00" width="9.10" height="9.10"/>
<rect x="180.91" y="99.00" width="9.10" height="9.10"/>
<rect x="190.00" y="99.00" width="9.10" height="9.10"/>
<rect x="199.10" y="99.00" width="9.10" height="9.10"/>
<rect x="208.19" y="99.00" width="9.10" height="9.10"/>
<rect x="217.29" y="99.00" width="9.10" height="9.10"/>
<rect x="226.38" y="99.00" width="9.10" height="9.10"/>
<rect x="26.30" y="108.10" width="9.10" height="9.10"/>
<rect x="35.39" y="108.10" width="9.10" height="9.10"/>
<rect x="44.48" y="108.10" width="9.10" height="9.10"/>
<rect x="53.58" y="108.10" width="9.10" height="9.10"/>
<rect x="62.67" y="108.10" width="9.10" height="9.10"/>
<rect x="71.77" y="108.10" width="9.10" height="9.10"/>
<rect x="80.87" y="108.10" width="9.10" height="9.10"/>
<rect x="89.96" y="108.10" width="9.10" height="9.10"/>
<rect x="99.06" y="108.10" width="9.10" height="9.10"/>
<rect x="108.15" y="108.10" width="9.10" height="9.10"/>
<rect x="117.25" y="108.10" width="9.10" height="9.10"/>
<rect x="126.34" y="108.10" width="9.10" height="9.10"/>
<rect x="135.44" y="108.10" width="9.10" height="9.10"/>
<rect x="144.53" y="108.10" width="9.10" height="9.10"/>
<rect x="153.62" y="108.10" width="9.10" height="9.10"/>
<rect x="162.72" y="108.10" width="9.10" height="9.10"/>
<rect x="171.81" y="108.10" width="9.10" height="9.10"/>
<rect x="180.91" y="108.10" width="9.10" height="9.10"/>
<rect x="190.00" y="108.10" width="9.10" height="9.10"/>
<rect x="199.10" y="108.10" width="9.10" height="9.10"/>
<rect x="208.19" y="108.10" width="9.10" height="9.10"/>
<rect x="217.29" y="108.10" width="9.10" height="9.10"/>
<rect x="226.38" y="108.10" width="9.10" height="9.10"/>
<rect x="26.30" y="117.20" width="9.10" height="9.10"/>
<rect x="35.39" y="117.20" width="9.10" height="9.10"/>
<rect x="44.48" y="117.20" width="9.10" height="9.10"/>
<rect x="53.58" y="117.20" width="9.10" height="9.10"/>
<rect x="62.67" y="117.20" width="9.10" height="9.10"/>
<rect x="71.77" y="117.20" width="9.10" height="9.10"/>
<rect x="80.87" y="117.20" width="9.10" height="9.10"/>
<rect x="89.96" y="117.20" width="9.10" height="9.10"/>
<rect x="99.06" y="117.20" width="9.10" height="9.10"/>
<rect x="108.15" y="117.20" width="9.10" height="9.10"/>
<rect x="117.25" y="117.20" width="9.10" height="9.10"/>
<rect x="126.34" y="117.20" width="9.10" height="9.10"/>
<rect x="135.44" y="117.20" width="9.10" height="9.10"/>
<rect x="144.53" y="117.20" width="9.10" height="9.10"/>
<rect x="153.62" y="117.20" width="9.10" height="9.10"/>
<rect x="162.72" y="117.20" width="9.10" height="9.10"/>
<rect x="171.81" y="117.20" width="9.10" height="9.10"/>
<rect x="180.91" y="117.20" width="9.10" height="9.10"/>
<rect x="190.00" y="117.20" width="9.10" height="9.10"/>
<rect x="199.10" y="117.20" width="9.10" height="9.10"/>
<rect x="208.19" y="117.20" width="9.10" height="9.10"/>
<rect x="217.29" y="117.20" width="9.10" height="9.10"/>
<rect x="226.38" y="117.20" width="9.10" height="9.10"/>
<rect x="26.30" y="126.30" width="9.10" height="9.10"/>
<rect x="35.39" y="126.30" width="9.10" height="9.10"/>
<rect x="44.48" y="126.30" width="9.10" height="9.10"/>
<rect x="53.58" y="126.30" width="9.10" height="9.10"/>
<rect x="62.67" y="126.30" width="9.10" height="9.10"/>
<rect x="71.77" y="126.30" width="9.10" height="9.10"/>
<rect x="80.87" y="126.30" width="9.10" height="9.10"/>
<rect x="89.96" y="126.30" width="9.10" height="9.10"/>
<rect x="99.06" y="126.30" width="9.10" height="9.10"/>
<rect x="108.15" y="126.30" width="9.10" height="9.10"/>
<rect x="117.25" y="126.30" width="9.10" height="9.10"/>
<rect x="126.34" y="126.30" width="9.10" height="9.10"/>
<rect x="135.44" y="126.30" width="9.10" height="9.10"/>
<rect x="144.53" y="126.30" width="9.10" height="9.10"/>
<rect x="153.62" y="126.30" width="9.10" height="9.10"/>
<rect x="162.72" y="126.30" width="9.10" height="9.10"/>
<rect x="171.81" y="126.30" width="9.10" height="9.10"/>
<rect x="180.91" y="126.30" width="9.10" height="9.10"/>
<rect x="190.00" y="126.30" width="9.10" height="9.10"/>
<rect x="199.10" y="126.30" width="9.10" height="9.10"/>
<rect x="208.19" y="126.30" width="9.10" height="9.10"/>
<rect x="217.29" y="126.30" width="9.10" height="9.10"/>
<rect x="226.38" y="126.30" width="9.10" height="9.10"/>
<rect x="26.30" y="135.40" width="9.10" height="9.10"/>
<rect x="35.39" y="135.40" width="9.10" height="9.10"/>
<rect x="44.48" y="135.40" width="9.10" height="9.10"/>
<rect x="53.58" y="135.40" width="9.10" height="9.10"/>
<rect x="62.67" y="135.40" width="9.10" height="9.10"/>
<rect x="71.77" y="135.40" width="9.10" height="9.10"/>
<rect x="80.87" y="135.40" width="9.10" height="9.10"/>
<rect x="89.96" y="135.40" width="9.10" height="9.10"/>
<rect x="99.06" y="135.40" width="9.10" height="9.10"/>
<rect x="108.15" y="135.40" width="9.10" height="9.10"/>
<rect x="117.25" y="135.40" width="9.10" height="9.10"/>
<rect x="126.34" y="135.40" width="9.10" height="9.10"/>
<rect x="135.44" y="135.40" width="9.10" height="9.10"/>
<rect x="144.53" y="135.40" width="9.10" height="9.10"/>
<rect x="153.62" y="135.40" width="9.10" height="9.10"/>
<rect x="162.72" y="135.40" width="9.10" height="9.10"/>
<rect x="171.81" y="135.40" width="9.10" height="9.10"/>
<rect x="180.91" y="135.40" width="9.10" height="9.10"/>
<rect x="190.00" y="135.40" width="9.10" height="9.10"/>
<rect x="199.10" y="135.40" width="9.10" height="9.10"/>
<rect x="208.19" y="135.40" width="9.10" height="9.10"/>
<rect x="217.29" y="135.40" width="9.10" height="9.10"/>
<rect x="226.38" y="135.40" width="9.10" height="9.10"/>
<rect x="235.48" y="135.40" width="9.10" height="9.10"/>
<rect x="26.30" y="144.50" width="9.10" height="9.10"/>
<rect x="35.39" y="144.50" width="9.10" height="9.10"/>
<rect x="44.48" y="144.50" width="9.10" height="9.10"/>
<rect x="53.58" y="144.50" width="9.10" height="9.10"/>
<rect x="62.67" y="144.50" width="9.10" height="9.10"/>
<rect x="71.77" y="144.50" width="9.10" height="9.10"/>
<rect x="80.87" y="144.50" width="9.10" height="9.10"/>
<rect x="89.96" y="144.50" width="9.10" height="9.10"/>
<rect x="99.06" y="144.50" width="9.10" height="9.10"/>
<rect x="108.15" y="144.50" width="9.10" height="9.10"/>
<rect x="117.25" y="144.50" width="9.10" height="9.10"/>
<rect x="126.34" y="144.50" width="9.10" height="9.10"/>
<rect x="135.44" y="144.50" width="9.10" height="9.10"/>
<rect x="144.53" y="144.50" width="9.10" height="9.10"/>
<rect x="153.62" y="144.50" width="9.10" height="9.10"/>
<rect x="162.72" y="144.50" width="9.10" height="9.10"/>
<rect x="171.81" y="144.50" width="9.10" height="9.10"/>
<rect x="180.91" y="144.50" width="9.10" height="9.10"/>
<rect x="190.00" y="144.50" width="9.10" height="9.10"/>
<rect x="199.10" y="144.50" width="9.10" height="9.10"/>
<rect x="208.19" y="144.50" width="9.10" height="9.10"/>
<rect x="217.29" y="144.50" width="9.10" height="9.10"/>
<rect x="226.38" y="144.50" width="9.10" height="9.10"/>
<rect x="235.48" y="144.50" width="9.10" height="9.10"/>
<rect x="35.39" y="153.60" width="9.10" height="9.10"/>
<rect x="44.48" y="153.60" width="9.10" height="9.10"/>
<rect x="53.58" y="153.60" width="9.10" height="9.10"/>
<rect x="62.67" y="153.60" width="9.10" height="9.10"/>
<rect x="71.77" y="153.60" width="9.10" height="9.10"/>
<rect x="80.87" y="153.60" width="9.10" height="9.10"/>
<rect x="89.96" y="153.60" width="9.10" height="9.10"/>
<rect x="99.06" y="153.60" width="9.10" height="9.10"/>
<rect x="108.15" y="153.60" width="9.10" height="9.10"/>
<rect x="117.25" y="153.60" width="9.10" height="9.10"/>
<rect x="126.34" y="153.60" width="9.10" height="9.10"/>
<rect x="135.44" y="153.60" width="9.10" height="9.10"/>
<rect x="144.53" y="153.60" width="9.10" height="9.10"/>
<rect x="153.62" y="153.60" width="9.10" height="9.10"/>
<rect x="162.72" y="153.60" width="9.10" height="9.10"/>
<rect x="171.81" y="153.60" width="9.10" height="9.10"/>
<rect x="180.91" y="153.60" width="9.10" height="9.10"/>
<rect x="190.00" y="153.60" width="9.10" height="9.10"/>
<rect x="199.10" y="153.60" width="9.10" height="9.10"/>
<rect x="208.19" y="153.60" width="9.10" height="9.10"/>
<rect x="217.29" y="153.60" width="9.10" height="9.10"/>
<rect x="226.38" y="153.60" width="9.10" height="9.10"/>
<rect x="235.48" y="153.60" width="9.10" height="9.10"/>
<rect x="35.39" y="162.70" width="9.10" height="9.10"/>
<rect x="44.48" y="162.70" width="9.10" height="9.10"/>
<rect x="53.58" y="162.70" width="9.10" height="9.10"/>
<rect x="62.67" y="162.70" width="9.10" height="9.10"/>
<rect x="71.77" y="162.70" width="9.10" height="9.10"/>
<rect x="80.87" y="162.70" width="9.10" height="9.10"/>
<rect x="89.96" y="162.70" width="9.10" height="9.10"/>
<rect x="99.06" y="162.70" width="9.10" height="9.10"/>
<rect x="108.15" y="162.70" width="9.10" height="9.10"/>
<rect x="117.25" y="162.70" width="9.10" height="9.10"/>
<rect x="126.34" y="162.70" width="9.10" height="9.10"/>
<rect x="135.44" y="162.70" width="9.10" height="9.10"/>
<rect x="144.53" y="162.70" width="9.10" height="9.10"/>
<rect x="153.62" y="162.70" width="9.10" height="9.10"/>
<rect x="162.72" y="162.70" width="9.10" height="9.10"/>
<rect x="171.81" y="162.70" width="9.10" height="9.10"/>
<rect x="180.91" y="162.70" width="9.10" height="9.10"/>
<rect x="190.00" y="162.70" width="9.10" height="9.10"/>
<rect x="199.10" y="162.70" width="9.10" height="9.10"/>
<rect x="208.19" y="162.70" width="9.10" height="9.10"/>
<rect x="217.29" y="162.70" width="9.10" height="9.10"/>
<rect x="226.38" y="162.70" width="9.10" height="9.10"/>
<rect x="235.48" y="162.70" width="9.10" height="9.10"/>
<rect x="35.39" y="171.80" width="9.10" height="9.10"/>
<rect x="44.48" y="171.80" width="9.10" height="9.10"/>
<rect x="53.58" y="171.80" width="9.10" height="9.10"/>
<rect x="62.67" y="171.80" width="9.10" height="9.10"/>
<rect x="71.77" y="171.80" width="9.10" height="9.10"/>
<rect x="80.87" y="171.80" width="9.10" height="9.10"/>
<rect x="89.96" y="171.80" width="9.10" height="9.10"/>
<rect x="99.06" y="171.80" width="9.10" height="9.10"/>
<rect x="108.15" y="171.80" width="9.10" height="9.10"/>
<rect x="117.25" y="171.80" width="9.10" height="9.10"/>
<rect x="126.34" y="171.80" width="9.10" height="9.10"/>
<rect x="135.44" y="171.80" width="9.10" height="9.10"/>
<rect x="144.53" y="171.80" width="9.10" height="9.10"/>
<rect x="153.62" y="171.80" width="9.10" height="9.10"/>
<rect x="162.72" y="171.80" width="9.10" height="9.10"/>
<rect x="171.81" y="171.80" width="9.10" height="9.10"/>
<rect x="180.91" y="171.80" width="9.10" height="9.10"/>
<rect x="190.00" y="171.80" width="9.10" height="9.10"/>
<rect x="199.10" y="171.80" width="9.10" height="9.10"/>
<rect x="208.19" y="171.80" width="9.10" height="9.10"/>
<rect x="217.29" y="171.80" width="9.10" height="9.10"/>
<rect x="226.38" y="171.80" width="9.10" height="9.10"/>
<rect x="235.48" y="171.80" width="9.10" height="9.10"/>
<rect x="35.39" y="180.90" width="9.10" height="9.10"/>
<rect x="44.48" y="180.90" width="9.10" height="9.10"/>
<rect x="53.58" y="180.90" width="9.10" height="9.10"/>
<rect x="62.67" y="180.90" width="9.10" height="9.10"/>
<rect x="71.77" y="180.90" width="9.10" height="9.10"/>
<rect x="80.87" y="180.90" width="9.10" height="9.10"/>
<rect x="89.96" y="180.90" width="9.10" height="9.10"/>
<rect x="99.06" y="180.90" width="9.10" height="9.10"/>
<rect x="108.15" y="180.90" width="9.10" height="9.10"/>
<rect x="117.25" y="180.90" width="9.10" height="9.10"/>
<rect x="126.34" y="180.90" width="9.10" height="9.10"/>
<rect x="135.44" y="180.90" width="9.10" height="9.10"/>
<rect x="144.53" y="180.90" width="9.10" height="9.10"/>
<rect x="153.62" y="180.90" width="9.10" height="9.10"/>
<rect x="162.72" y="180.90" width="9.10" height="9.10"/>
<rect x="171.81" y="180.90" width="9.10" height="9.10"/>
<rect x="180.91" y="180.90" width="9.10" height="9.10"/>
<rect x="190.00" y="180.90" width="9.10" height="9.10"/>
<rect x="199.10" y="180.90" width="9.10" height="9.10"/>
<rect x="208.19" y="180.90" width="9.10" height="9.10"/>
<rect x="217.29" y="180.90" width="9.10" height="9.10"/>
<rect x="226.38" y="180.90" width="9.10" height="9.10"/>
<rect x="235.48" y="180.90" width="9.10" height="9.10"/>
<rect x="35.39" y="190.00" width="9.10" height="9.10"/>
<rect x="44.48" y="190.00" width="9.10" height="9.10"/>
<rect x="53.58" y="190.00" width="9.10" height="9.10"/>
<rect x="62.67" y="190.00" width="9.10" height="9.10"/>
<rect x="71.77" y="190.00" width="9.10" height="9.10"/>
<rect x="80.87" y="190.00" width="9.10" height="9.10"/>
<rect x="89.96" y="190.00" width="9.10" height="9.10"/>
<rect x="99.06" y="190.00" width="9.10" height="9.10"/>
<rect x="108.15" y="190.00" width="9.10" height="9.10"/>
<rect x="117.25" y="190.00" width="9.10" height="9.10"/>
<rect x="126.34" y="190.00" width="9.10" height="9.10"/>
<rect x="135.44" y="190.00" width="9.10" height="9.10"/>
<rect x="144.53" y="190.00" width="9.10" height="9.10"/>
<rect x="153.62" y="190.00" width="9.10" height="9.10"/>
<rect x="162.72" y="190.00" width="9.10" height="9.10"/>
<rect x="171.81" y="190.00" width="9.10" height="9.10"/>
<rect x="180.91" y="190.00" width="9.10" height="9.10"/>
<rect x="190.00" y="190.00" width="9.10" height="9.10"/>
<rect x="199.10" y="190.00" width="9.10" height="9.10"/>
<rect x="208.19" y="190.00" width="9.10" height="9.10"/>
<rect x="217.29" y="190.00" width="9.10" height="9.10"/>
<rect x="226.38" y="190.00" width="9.10" height="9.10"/>
<rect x="235.48" y="190.00" width="9.10" height="9.10"/>
<rect x="44.48" y="199.10" width="9.10" height="9.10"/>
<rect x="53.58" y="199.10" width="9.10" height="9.10"/>
<rect x="62.67" y="199.10" width="9.10" height="9.10"/>
<rect x="71.77" y="199.10" width="9.10" height="9.10"/>
<rect x="80.87" y="199.10" width="9.10" height="9.10"/>
<rect x="89.96" y="199.10" width="9.10" height="9.10"/>
<rect x="99.06" y="199.10" width="9.10" height="9.10"/>
<rect x="108.15" y="199.10" width="9.10" height="9.10"/>
<rect x="117.25" y="199.10" width="9.10" height="9.10"/>
<rect x="126.34" y="199.10" width="9.10" height="9.10"/>
<rect x="135.44" y="199.10" width="9.10" height="9.10"/>
<rect x="144.53" y="199.10" width="9.10" height="9.10"/>
<rect x="153.62" y="199.10" width="9.10" height="9.10"/>
<rect x="162.72" y="199.10" width="9.10" height="9.10"/>
<rect x="171.81" y="199.10" width="9.10" height="9.10"/>
<rect x="180.91" y="199.10" width="9.10" height="9.10"/>
<rect x="190.00" y="199.10" width="9.10" height="9.10"/>
<rect x="199.10" y="199.10" width="9.10" height="9.10"/>
<rect x="208.19" y="199.10" width="9.10" height="9.10"/>
<rect x="217.29" y="199.10" width="9.10" height="9.10"/>
<rect x="226.38" y="199.10" width="9.10" height="9.10"/>
<rect x="235.48" y="199.10" width="9.10" height="9.10"/>
<rect x="44.48" y="208.20" width="9.10" height="9.10"/>
<rect x="53.58" y="208.20" width="9.10" height="9.10"/>
<rect x="62.67" y="208.20" width="9.10" height="9.10"/>
<rect x="71.77" y="208.20" width="9.10" height="9.10"/>
<rect x="80.87" y="208.20" width="9.10" height="9.10"/>
<rect x="89.96" y="208.20" width="9.10" height="9.10"/>
<rect x="99.06" y="208.20" width="9.10" height="9.10"/>
<rect x="108.15" y="208.20" width="9.10" height="9.10"/>
<rect x="117.25" y="208.20" width="9.10" height="9.10"/>
<rect x="126.34" y="208.20" width="9.10" height="9.10"/>
<rect x="135.44" y="208.20" width="9.10" height="9.10"/>
<rect x="144.53" y="208.20" width="9.10" height="9.10"/>
<rect x="153.62" y="208.20" width="9.10" height="9.10"/>
<rect x="162.72" y="208.20" width="9.10" height="9.10"/>
<rect x="171.81" y="208.20" width="9.10" height="9.10"/>
<rect x="180.91" y="208.20" width="9.10" height="9.10"/>
<rect x="190.00" y="208.20" width="9.10" height="9.10"/>
<rect x="199.10" y="208.20" width="9.10" height="9.10"/>
<rect x="208.19" y="208.20" width="9.10" height="9.10"/>
<rect x="217.29" y="208.20" width="9.10" height="9.10"/>
<rect x="226.38" y="208.20" width="9.10" height="9.10"/>
<rect x="235.48" y="208.20" width="9.10" height="9.10"/>
<rect x="44.48" y="217.30" width="9.10" height="9.10"/>
<rect x="53.58" y="217.30" width="9.10" height="9.10"/>
<rect x="62.67" y="217.30" width="9.10" height="9.10"/>
<rect x="71.77" y="217.30" width="9.10" height="9.10"/>
<rect x="80.87" y="217.30" width="9.10" height="9.10"/>
<rect x="89.96" y="217.30" width="9.10" height="9.10"/>
<rect x="99.06" y="217.30" width="9.10" height="9.10"/>
<rect x="108.15" y="217.30" width="9.10" height="9.10"/>
<rect x="117.25" y="217.30" width="9.10" height="9.10"/>
<rect x="126.34" y="217.30" width="9.10" height="9.10"/>
<rect x="135.44" y="217.30" width="9.10" height="9.10"/>
<rect x="144.53" y="217.30" width="9.10" height="9.10"/>
<rect x="153.62" y="217.30" width="9.10" height="9.10"/>
<rect x="162.72" y="217.30" width="9.10" height="9.10"/>
<rect x="171.81" y="217.30" width="9.10" height="9.10"/>
<rect x="180.91" y="217.30" width="9.10" height="9.10"/>
<rect x="190.00" y="217.30" width="9.10" height="9.10"/>
<rect x="199.10" y="217.30" width="9.10" height="9.10"/>
<rect x="208.19" y="217.30" width="9.10" height="9.10"/>
<rect x="217.29" y="217.30" width="9.10" height="9.10"/>
<rect x="226.38" y="217.30" width="9.10" height="9.10"/>
<rect x="235.48" y="217.30" width="9.10" height="9.10"/>
<rect x="44.48" y="226.40" width="9.10" height="9.10"/>
<rect x="53.58" y="226.40" width="9.10" height="9.10"/>
<rect x="62.67" y="226.40" width="9.10" height="9.10"/>
<rect x="71.77" y="226.40" width="9.10" height="9.10"/>
<rect x="80.87" y="226.40" width="9.10" height="9.10"/>
<rect x="89.96" y="226.40" width="9.10" height="9.10"/>
<rect x="99.06" y="226.40" width="9.10" height="9.10"/>
<rect x="108.15" y="226.40" width="9.10" height="9.10"/>
<rect x="117.25" y="226.40" width="9.10" height="9.10"/>
<rect x="126.34" y="226.40" width="9.10" height="9.10"/>
<rect x="135.44" y="226.40" width="9.10" height="9.10"/>
<rect x="144.53" y="226.40" width="9.10" height="9.10"/>
<rect x="44.48" y="235.50" width="9.10" height="9.10"/>
<rect x="53.58" y="235.50" width="9.10" height="9.10"/>
<rect x="62.67" y="235.50" width="9.10" height="9.10"/>
<rect x="71.77" y="235.50" width="9.10" height="9.10"/>
<rect x="80.87" y="235.50" width="9.10" height="9.10"/>
<rect x="89.96" y="235.50" width="9.10" height="9.10"/>
<rect x="99.06" y="235.50" width="9.10" height="9.10"/>
<rect x="53.58" y="244.60" width="9.10" height="9.10"/>
<rect x="62.67" y="244.60" width="9.10" height="9.10"/></g>
<polygon points="16.6,87.5 215.6,35.5 232,100 241,145 245,190 246,226.6 153.6,230.2 49.7,253" fill="none" stroke="#f3edc0" stroke-width="1.3"/>
<polygon points="16.6,87.5 215.6,35.5 232,100 241,145 245,190 246,226.6 153.6,230.2 49.7,253" fill="none" stroke="#c8324a" stroke-width="0.9" stroke-dasharray="4 1.5 1 1.5"/>
<rect x="13.5" y="28.8" width="244.4" height="236.8" fill="none" stroke="#151515" stroke-width="1.5"/>
<!-- RIGHT MAP -->
<g class="st"><path d="M297,29.8 L334,30.8"/><path d="M339.6,30.8 L378.7,33.2"/><path d="M299,35 L333,36 L334,60 L302,59 Z"/><path d="M337.3,35.5 L379.8,37.8 L377.5,65 L336.1,62.6 Z"/><path d="M408.2,30.7 L409.4,70.9 L411.2,72.1 L478.6,76.8 L479.7,29.5"/><path d="M482,29.5 L482,70.9 L521,70.9 L528,29.5"/><path d="M534,29.5 L528.2,76.8 L536.5,78"/><path d="M295.6,75 L294.5,96.4 L296.2,113.8 L295,140 L296,170 L295,200 L296.5,236"/><path d="M301.1,75 L302.2,96.4 L301.1,113.8 L302,140 L301,170 L302,200 L301.8,236"/><path d="M522.8,88 L513.9,130"/><path d="M529.8,88 L520.3,130"/><path d="M534.9,97.6 L527.2,130"/><path d="M513.9,130 L512,147.6 L508.2,165.4 L506.9,173 L509.4,178.2"/><path d="M520.3,130 L521.5,180"/><path d="M527.2,130 L526,180"/><path d="M532,130 L531.5,180"/><path d="M502.4,188.9 L522.2,187.6 L524.7,220 L499.9,222"/><path d="M527,186 L527.5,222"/><path d="M531,190 L532,222"/><path d="M509.3,229 L496,243"/><path d="M520,226 L506,246 L507,249"/><path d="M532,225 L515,247"/><path d="M492,242 Q496,248 505,249 L536,249"/><path d="M480,265 L482,256 Q486,252 495,252"/><path d="M500,265 L502,258 Q504,254 506,258 L505,265"/><path d="M512,265 L513,258 Q516,254 524,254 L536,253"/><path d="M294.7,245 L301.8,245.6 L303,265.7"/><path d="M310,244.5 L311.3,265.7"/><path d="M316,245 L319.5,265.7"/><path d="M327.8,265.7 L327.8,252.7 L331.4,245.6 L368,244.5 L369.2,265.7"/><path d="M371.6,244.5 L371.6,265.7"/><path d="M372.7,244.5 L405.8,244.5 L408.2,249.2 L408.2,265.7"/><path d="M420.6,265 L420.6,248 L481,248 L484,252"/></g>
<g><rect x="302.60" y="73.00" width="9.10" height="9.10" fill="#a9adf0"/>
<rect x="311.70" y="73.00" width="9.10" height="9.10" fill="#a9adf0"/>
<rect x="320.80" y="73.00" width="9.10" height="9.10" fill="#a9adf0"/>
<rect x="302.60" y="82.10" width="9.10" height="9.10" fill="#848ce3"/>
<rect x="311.70" y="82.10" width="9.10" height="9.10" fill="#3b52c6"/>
<rect x="320.80" y="82.10" width="9.10" height="9.10" fill="#3b52c6"/>
<rect x="329.90" y="82.10" width="9.10" height="9.10" fill="#3b52c6"/>
<rect x="339.00" y="82.10" width="9.10" height="9.10" fill="#3b52c6"/>
<rect x="348.10" y="82.10" width="9.10" height="9.10" fill="#4c60cf"/>
<rect x="357.20" y="82.10" width="9.10" height="9.10" fill="#6575d9"/>
<rect x="366.30" y="82.10" width="9.10" height="9.10" fill="#a9adf0"/>
<rect x="375.40" y="82.10" width="9.10" height="9.10" fill="#d6d8fa"/>
<rect x="384.50" y="82.10" width="9.10" height="9.10" fill="#d6d8fa"/>
<rect x="393.60" y="82.10" width="9.10" height="9.10" fill="#d6d8fa"/>
<rect x="402.70" y="82.10" width="9.10" height="9.10" fill="#d6d8fa"/>
<rect x="411.80" y="82.10" width="9.10" height="9.10" fill="#d6d8fa"/>
<rect x="420.90" y="82.10" width="9.10" height="9.10" fill="#d6d8fa"/>
<rect x="430.00" y="82.10" width="9.10" height="9.10" fill="#d6d8fa"/>
<rect x="439.10" y="82.10" width="9.10" height="9.10" fill="#d6d8fa"/>
<rect x="448.20" y="82.10" width="9.10" height="9.10" fill="#d6d8fa"/>
<rect x="302.60" y="91.20" width="9.10" height="9.10" fill="#848ce3"/>
<rect x="311.70" y="91.20" width="9.10" height="9.10" fill="#3b52c6"/>
<rect x="320.80" y="91.20" width="9.10" height="9.10" fill="#2445b7"/>
<rect x="329.90" y="91.20" width="9.10" height="9.10" fill="#2445b7"/>
<rect x="339.00" y="91.20" width="9.10" height="9.10" fill="#2445b7"/>
<rect x="348.10" y="91.20" width="9.10" height="9.10" fill="#2445b7"/>
<rect x="357.20" y="91.20" width="9.10" height="9.10" fill="#4c60cf"/>
<rect x="366.30" y="91.20" width="9.10" height="9.10" fill="#a9adf0"/>
<rect x="375.40" y="91.20" width="9.10" height="9.10" fill="#d6d8fa"/>
<rect x="384.50" y="91.20" width="9.10" height="9.10" fill="#a9adf0"/>
<rect x="393.60" y="91.20" width="9.10" height="9.10" fill="#d6d8fa"/>
<rect x="402.70" y="91.20" width="9.10" height="9.10" fill="#d6d8fa"/>
<rect x="411.80" y="91.20" width="9.10" height="9.10" fill="#d6d8fa"/>
<rect x="420.90" y="91.20" width="9.10" height="9.10" fill="#d6d8fa"/>
<rect x="430.00" y="91.20" width="9.10" height="9.10" fill="#d6d8fa"/>
<rect x="439.10" y="91.20" width="9.10" height="9.10" fill="#d6d8fa"/>
<rect x="448.20" y="91.20" width="9.10" height="9.10" fill="#d6d8fa"/>
<rect x="457.30" y="91.20" width="9.10" height="9.10" fill="#d6d8fa"/>
<rect x="466.40" y="91.20" width="9.10" height="9.10" fill="#d6d8fa"/>
<rect x="475.50" y="91.20" width="9.10" height="9.10" fill="#d6d8fa"/>
<rect x="484.60" y="91.20" width="9.10" height="9.10" fill="#a9adf0"/>
<rect x="493.70" y="91.20" width="9.10" height="9.10" fill="#848ce3"/>
<rect x="502.80" y="91.20" width="9.10" height="9.10" fill="#a9adf0"/>
<rect x="511.90" y="91.20" width="9.10" height="9.10" fill="#d6d8fa"/>
<rect x="302.60" y="100.30" width="9.10" height="9.10" fill="#848ce3"/>
<rect x="311.70" y="100.30" width="9.10" height="9.10" fill="#2445b7"/>
<rect x="320.80" y="100.30" width="9.10" height="9.10" fill="#1b3dad"/>
<rect x="329.90" y="100.30" width="9.10" height="9.10" fill="#1b3dad"/>
<rect x="339.00" y="100.30" width="9.10" height="9.10" fill="#1b3dad"/>
<rect x="348.10" y="100.30" width="9.10" height="9.10" fill="#2445b7"/>
<rect x="357.20" y="100.30" width="9.10" height="9.10" fill="#4c60cf"/>
<rect x="366.30" y="100.30" width="9.10" height="9.10" fill="#a9adf0"/>
<rect x="375.40" y="100.30" width="9.10" height="9.10" fill="#6575d9"/>
<rect x="384.50" y="100.30" width="9.10" height="9.10" fill="#6575d9"/>
<rect x="393.60" y="100.30" width="9.10" height="9.10" fill="#6575d9"/>
<rect x="402.70" y="100.30" width="9.10" height="9.10" fill="#d6d8fa"/>
<rect x="411.80" y="100.30" width="9.10" height="9.10" fill="#d6d8fa"/>
<rect x="420.90" y="100.30" width="9.10" height="9.10" fill="#d6d8fa"/>
<rect x="430.00" y="100.30" width="9.10" height="9.10" fill="#6575d9"/>
<rect x="439.10" y="100.30" width="9.10" height="9.10" fill="#6575d9"/>
<rect x="448.20" y="100.30" width="9.10" height="9.10" fill="#a9adf0"/>
<rect x="457.30" y="100.30" width="9.10" height="9.10" fill="#d6d8fa"/>
<rect x="466.40" y="100.30" width="9.10" height="9.10" fill="#848ce3"/>
<rect x="475.50" y="100.30" width="9.10" height="9.10" fill="#848ce3"/>
<rect x="484.60" y="100.30" width="9.10" height="9.10" fill="#6575d9"/>
<rect x="493.70" y="100.30" width="9.10" height="9.10" fill="#6575d9"/>
<rect x="502.80" y="100.30" width="9.10" height="9.10" fill="#848ce3"/>
<rect x="511.90" y="100.30" width="9.10" height="9.10" fill="#d6d8fa"/>
<rect x="311.70" y="109.40" width="9.10" height="9.10" fill="#2445b7"/>
<rect x="320.80" y="109.40" width="9.10" height="9.10" fill="#1b3dad"/>
<rect x="329.90" y="109.40" width="9.10" height="9.10" fill="#1b3dad"/>
<rect x="339.00" y="109.40" width="9.10" height="9.10" fill="#1b3dad"/>
<rect x="348.10" y="109.40" width="9.10" height="9.10" fill="#2445b7"/>
<rect x="357.20" y="109.40" width="9.10" height="9.10" fill="#4c60cf"/>
<rect x="366.30" y="109.40" width="9.10" height="9.10" fill="#a9adf0"/>
<rect x="375.40" y="109.40" width="9.10" height="9.10" fill="#4c60cf"/>
<rect x="384.50" y="109.40" width="9.10" height="9.10" fill="#4c60cf"/>
<rect x="393.60" y="109.40" width="9.10" height="9.10" fill="#4c60cf"/>
<rect x="402.70" y="109.40" width="9.10" height="9.10" fill="#d6d8fa"/>
<rect x="411.80" y="109.40" width="9.10" height="9.10" fill="#d6d8fa"/>
<rect x="420.90" y="109.40" width="9.10" height="9.10" fill="#d6d8fa"/>
<rect x="430.00" y="109.40" width="9.10" height="9.10" fill="#4c60cf"/>
<rect x="439.10" y="109.40" width="9.10" height="9.10" fill="#4c60cf"/>
<rect x="448.20" y="109.40" width="9.10" height="9.10" fill="#a9adf0"/>
<rect x="457.30" y="109.40" width="9.10" height="9.10" fill="#a9adf0"/>
<rect x="466.40" y="109.40" width="9.10" height="9.10" fill="#4c60cf"/>
<rect x="475.50" y="109.40" width="9.10" height="9.10" fill="#6575d9"/>
<rect x="484.60" y="109.40" width="9.10" height="9.10" fill="#848ce3"/>
<rect x="493.70" y="109.40" width="9.10" height="9.10" fill="#848ce3"/>
<rect x="502.80" y="109.40" width="9.10" height="9.10" fill="#a9adf0"/>
<rect x="311.70" y="118.50" width="9.10" height="9.10" fill="#2445b7"/>
<rect x="320.80" y="118.50" width="9.10" height="9.10" fill="#2445b7"/>
<rect x="329.90" y="118.50" width="9.10" height="9.10" fill="#2445b7"/>
<rect x="339.00" y="118.50" width="9.10" height="9.10" fill="#2445b7"/>
<rect x="348.10" y="118.50" width="9.10" height="9.10" fill="#3b52c6"/>
<rect x="357.20" y="118.50" width="9.10" height="9.10" fill="#6575d9"/>
<rect x="366.30" y="118.50" width="9.10" height="9.10" fill="#a9adf0"/>
<rect x="375.40" y="118.50" width="9.10" height="9.10" fill="#4c60cf"/>
<rect x="384.50" y="118.50" width="9.10" height="9.10" fill="#3b52c6"/>
<rect x="393.60" y="118.50" width="9.10" height="9.10" fill="#4c60cf"/>
<rect x="402.70" y="118.50" width="9.10" height="9.10" fill="#d6d8fa"/>
<rect x="411.80" y="118.50" width="9.10" height="9.10" fill="#d6d8fa"/>
<rect x="420.90" y="118.50" width="9.10" height="9.10" fill="#d6d8fa"/>
<rect x="430.00" y="118.50" width="9.10" height="9.10" fill="#848ce3"/>
<rect x="439.10" y="118.50" width="9.10" height="9.10" fill="#6575d9"/>
<rect x="448.20" y="118.50" width="9.10" height="9.10" fill="#d6d8fa"/>
<rect x="457.30" y="118.50" width="9.10" height="9.10" fill="#d6d8fa"/>
<rect x="466.40" y="118.50" width="9.10" height="9.10" fill="#a9adf0"/>
<rect x="475.50" y="118.50" width="9.10" height="9.10" fill="#848ce3"/>
<rect x="484.60" y="118.50" width="9.10" height="9.10" fill="#a9adf0"/>
<rect x="493.70" y="118.50" width="9.10" height="9.10" fill="#848ce3"/>
<rect x="502.80" y="118.50" width="9.10" height="9.10" fill="#a9adf0"/>
<rect x="311.70" y="127.60" width="9.10" height="9.10" fill="#2445b7"/>
<rect x="320.80" y="127.60" width="9.10" height="9.10" fill="#1b3dad"/>
<rect x="329.90" y="127.60" width="9.10" height="9.10" fill="#11309c"/>
<rect x="339.00" y="127.60" width="9.10" height="9.10" fill="#11309c"/>
<rect x="348.10" y="127.60" width="9.10" height="9.10" fill="#2445b7"/>
<rect x="357.20" y="127.60" width="9.10" height="9.10" fill="#6575d9"/>
<rect x="366.30" y="127.60" width="9.10" height="9.10" fill="#d6d8fa"/>
<rect x="375.40" y="127.60" width="9.10" height="9.10" fill="#6575d9"/>
<rect x="384.50" y="127.60" width="9.10" height="9.10" fill="#4c60cf"/>
<rect x="393.60" y="127.60" width="9.10" height="9.10" fill="#6575d9"/>
<rect x="402.70" y="127.60" width="9.10" height="9.10" fill="#d6d8fa"/>
<rect x="411.80" y="127.60" width="9.10" height="9.10" fill="#d6d8fa"/>
<rect x="420.90" y="127.60" width="9.10" height="9.10" fill="#d6d8fa"/>
<rect x="430.00" y="127.60" width="9.10" height="9.10" fill="#d6d8fa"/>
<rect x="439.10" y="127.60" width="9.10" height="9.10" fill="#a9adf0"/>
<rect x="448.20" y="127.60" width="9.10" height="9.10" fill="#d6d8fa"/>
<rect x="457.30" y="127.60" width="9.10" height="9.10" fill="#d6d8fa"/>
<rect x="466.40" y="127.60" width="9.10" height="9.10" fill="#d6d8fa"/>
<rect x="475.50" y="127.60" width="9.10" height="9.10" fill="#d6d8fa"/>
<rect x="484.60" y="127.60" width="9.10" height="9.10" fill="#6575d9"/>
<rect x="493.70" y="127.60" width="9.10" height="9.10" fill="#4c60cf"/>
<rect x="502.80" y="127.60" width="9.10" height="9.10" fill="#6575d9"/>
<rect x="311.70" y="136.70" width="9.10" height="9.10" fill="#2445b7"/>
<rect x="320.80" y="136.70" width="9.10" height="9.10" fill="#1b3dad"/>
<rect x="329.90" y="136.70" width="9.10" height="9.10" fill="#11309c"/>
<rect x="339.00" y="136.70" width="9.10" height="9.10" fill="#1b3dad"/>
<rect x="348.10" y="136.70" width="9.10" height="9.10" fill="#3b52c6"/>
<rect x="357.20" y="136.70" width="9.10" height="9.10" fill="#848ce3"/>
<rect x="366.30" y="136.70" width="9.10" height="9.10" fill="#d6d8fa"/>
<rect x="375.40" y="136.70" width="9.10" height="9.10" fill="#848ce3"/>
<rect x="384.50" y="136.70" width="9.10" height="9.10" fill="#848ce3"/>
<rect x="393.60" y="136.70" width="9.10" height="9.10" fill="#848ce3"/>
<rect x="402.70" y="136.70" width="9.10" height="9.10" fill="#d6d8fa"/>
<rect x="411.80" y="136.70" width="9.10" height="9.10" fill="#d6d8fa"/>
<rect x="420.90" y="136.70" width="9.10" height="9.10" fill="#d6d8fa"/>
<rect x="430.00" y="136.70" width="9.10" height="9.10" fill="#6575d9"/>
<rect x="439.10" y="136.70" width="9.10" height="9.10" fill="#4c60cf"/>
<rect x="448.20" y="136.70" width="9.10" height="9.10" fill="#a9adf0"/>
<rect x="457.30" y="136.70" width="9.10" height="9.10" fill="#d6d8fa"/>
<rect x="466.40" y="136.70" width="9.10" height="9.10" fill="#d6d8fa"/>
<rect x="475.50" y="136.70" width="9.10" height="9.10" fill="#d6d8fa"/>
<rect x="484.60" y="136.70" width="9.10" height="9.10" fill="#848ce3"/>
<rect x="493.70" y="136.70" width="9.10" height="9.10" fill="#6575d9"/>
<rect x="502.80" y="136.70" width="9.10" height="9.10" fill="#848ce3"/>
<rect x="311.70" y="145.80" width="9.10" height="9.10" fill="#2445b7"/>
<rect x="320.80" y="145.80" width="9.10" height="9.10" fill="#1b3dad"/>
<rect x="329.90" y="145.80" width="9.10" height="9.10" fill="#1b3dad"/>
<rect x="339.00" y="145.80" width="9.10" height="9.10" fill="#1b3dad"/>
<rect x="348.10" y="145.80" width="9.10" height="9.10" fill="#2445b7"/>
<rect x="357.20" y="145.80" width="9.10" height="9.10" fill="#a9adf0"/>
<rect x="366.30" y="145.80" width="9.10" height="9.10" fill="#d6d8fa"/>
<rect x="375.40" y="145.80" width="9.10" height="9.10" fill="#d6d8fa"/>
<rect x="384.50" y="145.80" width="9.10" height="9.10" fill="#d6d8fa"/>
<rect x="393.60" y="145.80" width="9.10" height="9.10" fill="#d6d8fa"/>
<rect x="402.70" y="145.80" width="9.10" height="9.10" fill="#d6d8fa"/>
<rect x="411.80" y="145.80" width="9.10" height="9.10" fill="#d6d8fa"/>
<rect x="420.90" y="145.80" width="9.10" height="9.10" fill="#d6d8fa"/>
<rect x="430.00" y="145.80" width="9.10" height="9.10" fill="#6575d9"/>
<rect x="439.10" y="145.80" width="9.10" height="9.10" fill="#6575d9"/>
<rect x="448.20" y="145.80" width="9.10" height="9.10" fill="#a9adf0"/>
<rect x="457.30" y="145.80" width="9.10" height="9.10" fill="#d6d8fa"/>
<rect x="466.40" y="145.80" width="9.10" height="9.10" fill="#d6d8fa"/>
<rect x="475.50" y="145.80" width="9.10" height="9.10" fill="#d6d8fa"/>
<rect x="484.60" y="145.80" width="9.10" height="9.10" fill="#d6d8fa"/>
<rect x="493.70" y="145.80" width="9.10" height="9.10" fill="#d6d8fa"/>
<rect x="311.70" y="154.90" width="9.10" height="9.10" fill="#2445b7"/>
<rect x="320.80" y="154.90" width="9.10" height="9.10" fill="#1b3dad"/>
<rect x="329.90" y="154.90" width="9.10" height="9.10" fill="#11309c"/>
<rect x="339.00" y="154.90" width="9.10" height="9.10" fill="#1b3dad"/>
<rect x="348.10" y="154.90" width="9.10" height="9.10" fill="#2445b7"/>
<rect x="357.20" y="154.90" width="9.10" height="9.10" fill="#d6d8fa"/>
<rect x="366.30" y="154.90" width="9.10" height="9.10" fill="#d6d8fa"/>
<rect x="375.40" y="154.90" width="9.10" height="9.10" fill="#d6d8fa"/>
<rect x="384.50" y="154.90" width="9.10" height="9.10" fill="#d6d8fa"/>
<rect x="393.60" y="154.90" width="9.10" height="9.10" fill="#d6d8fa"/>
<rect x="402.70" y="154.90" width="9.10" height="9.10" fill="#d6d8fa"/>
<rect x="411.80" y="154.90" width="9.10" height="9.10" fill="#d6d8fa"/>
<rect x="420.90" y="154.90" width="9.10" height="9.10" fill="#d6d8fa"/>
<rect x="430.00" y="154.90" width="9.10" height="9.10" fill="#d6d8fa"/>
<rect x="439.10" y="154.90" width="9.10" height="9.10" fill="#a9adf0"/>
<rect x="448.20" y="154.90" width="9.10" height="9.10" fill="#d6d8fa"/>
<rect x="457.30" y="154.90" width="9.10" height="9.10" fill="#d6d8fa"/>
<rect x="466.40" y="154.90" width="9.10" height="9.10" fill="#d6d8fa"/>
<rect x="475.50" y="154.90" width="9.10" height="9.10" fill="#d6d8fa"/>
<rect x="484.60" y="154.90" width="9.10" height="9.10" fill="#d6d8fa"/>
<rect x="493.70" y="154.90" width="9.10" height="9.10" fill="#d6d8fa"/>
<rect x="311.70" y="164.00" width="9.10" height="9.10" fill="#6575d9"/>
<rect x="320.80" y="164.00" width="9.10" height="9.10" fill="#4c60cf"/>
<rect x="329.90" y="164.00" width="9.10" height="9.10" fill="#4c60cf"/>
<rect x="339.00" y="164.00" width="9.10" height="9.10" fill="#4c60cf"/>
<rect x="348.10" y="164.00" width="9.10" height="9.10" fill="#848ce3"/>
<rect x="357.20" y="164.00" width="9.10" height="9.10" fill="#d6d8fa"/>
<rect x="366.30" y="164.00" width="9.10" height="9.10" fill="#d6d8fa"/>
<rect x="375.40" y="164.00" width="9.10" height="9.10" fill="#d6d8fa"/>
<rect x="384.50" y="164.00" width="9.10" height="9.10" fill="#d6d8fa"/>
<rect x="393.60" y="164.00" width="9.10" height="9.10" fill="#d6d8fa"/>
<rect x="402.70" y="164.00" width="9.10" height="9.10" fill="#d6d8fa"/>
<rect x="411.80" y="164.00" width="9.10" height="9.10" fill="#d6d8fa"/>
<rect x="420.90" y="164.00" width="9.10" height="9.10" fill="#d6d8fa"/>
<rect x="430.00" y="164.00" width="9.10" height="9.10" fill="#d6d8fa"/>
<rect x="439.10" y="164.00" width="9.10" height="9.10" fill="#d6d8fa"/>
<rect x="448.20" y="164.00" width="9.10" height="9.10" fill="#d6d8fa"/>
<rect x="457.30" y="164.00" width="9.10" height="9.10" fill="#d6d8fa"/>
<rect x="466.40" y="164.00" width="9.10" height="9.10" fill="#d6d8fa"/>
<rect x="475.50" y="164.00" width="9.10" height="9.10" fill="#d6d8fa"/>
<rect x="484.60" y="164.00" width="9.10" height="9.10" fill="#d6d8fa"/>
<rect x="493.70" y="164.00" width="9.10" height="9.10" fill="#d6d8fa"/>
<rect x="311.70" y="173.10" width="9.10" height="9.10" fill="#848ce3"/>
<rect x="320.80" y="173.10" width="9.10" height="9.10" fill="#4c60cf"/>
<rect x="329.90" y="173.10" width="9.10" height="9.10" fill="#6575d9"/>
<rect x="339.00" y="173.10" width="9.10" height="9.10" fill="#d6d8fa"/>
<rect x="348.10" y="173.10" width="9.10" height="9.10" fill="#d6d8fa"/>
<rect x="357.20" y="173.10" width="9.10" height="9.10" fill="#d6d8fa"/>
<rect x="366.30" y="173.10" width="9.10" height="9.10" fill="#d6d8fa"/>
<rect x="375.40" y="173.10" width="9.10" height="9.10" fill="#d6d8fa"/>
<rect x="384.50" y="173.10" width="9.10" height="9.10" fill="#d6d8fa"/>
<rect x="393.60" y="173.10" width="9.10" height="9.10" fill="#d6d8fa"/>
<rect x="402.70" y="173.10" width="9.10" height="9.10" fill="#d6d8fa"/>
<rect x="411.80" y="173.10" width="9.10" height="9.10" fill="#d6d8fa"/>
<rect x="420.90" y="173.10" width="9.10" height="9.10" fill="#d6d8fa"/>
<rect x="430.00" y="173.10" width="9.10" height="9.10" fill="#848ce3"/>
<rect x="439.10" y="173.10" width="9.10" height="9.10" fill="#d6d8fa"/>
<rect x="448.20" y="173.10" width="9.10" height="9.10" fill="#d6d8fa"/>
<rect x="457.30" y="173.10" width="9.10" height="9.10" fill="#d6d8fa"/>
<rect x="466.40" y="173.10" width="9.10" height="9.10" fill="#848ce3"/>
<rect x="475.50" y="173.10" width="9.10" height="9.10" fill="#848ce3"/>
<rect x="484.60" y="173.10" width="9.10" height="9.10" fill="#848ce3"/>
<rect x="493.70" y="173.10" width="9.10" height="9.10" fill="#d6d8fa"/>
<rect x="311.70" y="182.20" width="9.10" height="9.10" fill="#848ce3"/>
<rect x="320.80" y="182.20" width="9.10" height="9.10" fill="#3b52c6"/>
<rect x="329.90" y="182.20" width="9.10" height="9.10" fill="#3b52c6"/>
<rect x="339.00" y="182.20" width="9.10" height="9.10" fill="#a9adf0"/>
<rect x="348.10" y="182.20" width="9.10" height="9.10" fill="#d6d8fa"/>
<rect x="357.20" y="182.20" width="9.10" height="9.10" fill="#d6d8fa"/>
<rect x="366.30" y="182.20" width="9.10" height="9.10" fill="#d6d8fa"/>
<rect x="375.40" y="182.20" width="9.10" height="9.10" fill="#d6d8fa"/>
<rect x="384.50" y="182.20" width="9.10" height="9.10" fill="#d6d8fa"/>
<rect x="393.60" y="182.20" width="9.10" height="9.10" fill="#d6d8fa"/>
<rect x="402.70" y="182.20" width="9.10" height="9.10" fill="#d6d8fa"/>
<rect x="411.80" y="182.20" width="9.10" height="9.10" fill="#d6d8fa"/>
<rect x="420.90" y="182.20" width="9.10" height="9.10" fill="#848ce3"/>
<rect x="430.00" y="182.20" width="9.10" height="9.10" fill="#4c60cf"/>
<rect x="439.10" y="182.20" width="9.10" height="9.10" fill="#6575d9"/>
<rect x="448.20" y="182.20" width="9.10" height="9.10" fill="#d6d8fa"/>
<rect x="457.30" y="182.20" width="9.10" height="9.10" fill="#6575d9"/>
<rect x="466.40" y="182.20" width="9.10" height="9.10" fill="#4c60cf"/>
<rect x="475.50" y="182.20" width="9.10" height="9.10" fill="#3b52c6"/>
<rect x="484.60" y="182.20" width="9.10" height="9.10" fill="#4c60cf"/>
<rect x="493.70" y="182.20" width="9.10" height="9.10" fill="#d6d8fa"/>
<rect x="311.70" y="191.30" width="9.10" height="9.10" fill="#d6d8fa"/>
<rect x="320.80" y="191.30" width="9.10" height="9.10" fill="#848ce3"/>
<rect x="329.90" y="191.30" width="9.10" height="9.10" fill="#848ce3"/>
<rect x="339.00" y="191.30" width="9.10" height="9.10" fill="#a9adf0"/>
<rect x="348.10" y="191.30" width="9.10" height="9.10" fill="#d6d8fa"/>
<rect x="357.20" y="191.30" width="9.10" height="9.10" fill="#d6d8fa"/>
<rect x="366.30" y="191.30" width="9.10" height="9.10" fill="#d6d8fa"/>
<rect x="375.40" y="191.30" width="9.10" height="9.10" fill="#d6d8fa"/>
<rect x="384.50" y="191.30" width="9.10" height="9.10" fill="#d6d8fa"/>
<rect x="393.60" y="191.30" width="9.10" height="9.10" fill="#d6d8fa"/>
<rect x="402.70" y="191.30" width="9.10" height="9.10" fill="#d6d8fa"/>
<rect x="411.80" y="191.30" width="9.10" height="9.10" fill="#d6d8fa"/>
<rect x="420.90" y="191.30" width="9.10" height="9.10" fill="#a9adf0"/>
<rect x="430.00" y="191.30" width="9.10" height="9.10" fill="#4c60cf"/>
<rect x="439.10" y="191.30" width="9.10" height="9.10" fill="#6575d9"/>
<rect x="448.20" y="191.30" width="9.10" height="9.10" fill="#d6d8fa"/>
<rect x="457.30" y="191.30" width="9.10" height="9.10" fill="#848ce3"/>
<rect x="466.40" y="191.30" width="9.10" height="9.10" fill="#3b52c6"/>
<rect x="475.50" y="191.30" width="9.10" height="9.10" fill="#2445b7"/>
<rect x="484.60" y="191.30" width="9.10" height="9.10" fill="#3b52c6"/>
<rect x="311.70" y="200.40" width="9.10" height="9.10" fill="#4c60cf"/>
<rect x="320.80" y="200.40" width="9.10" height="9.10" fill="#848ce3"/>
<rect x="329.90" y="200.40" width="9.10" height="9.10" fill="#d6d8fa"/>
<rect x="339.00" y="200.40" width="9.10" height="9.10" fill="#d6d8fa"/>
<rect x="348.10" y="200.40" width="9.10" height="9.10" fill="#d6d8fa"/>
<rect x="357.20" y="200.40" width="9.10" height="9.10" fill="#d6d8fa"/>
<rect x="366.30" y="200.40" width="9.10" height="9.10" fill="#d6d8fa"/>
<rect x="375.40" y="200.40" width="9.10" height="9.10" fill="#d6d8fa"/>
<rect x="384.50" y="200.40" width="9.10" height="9.10" fill="#d6d8fa"/>
<rect x="393.60" y="200.40" width="9.10" height="9.10" fill="#d6d8fa"/>
<rect x="402.70" y="200.40" width="9.10" height="9.10" fill="#d6d8fa"/>
<rect x="411.80" y="200.40" width="9.10" height="9.10" fill="#d6d8fa"/>
<rect x="420.90" y="200.40" width="9.10" height="9.10" fill="#d6d8fa"/>
<rect x="430.00" y="200.40" width="9.10" height="9.10" fill="#a9adf0"/>
<rect x="439.10" y="200.40" width="9.10" height="9.10" fill="#a9adf0"/>
<rect x="448.20" y="200.40" width="9.10" height="9.10" fill="#d6d8fa"/>
<rect x="457.30" y="200.40" width="9.10" height="9.10" fill="#848ce3"/>
<rect x="466.40" y="200.40" width="9.10" height="9.10" fill="#3b52c6"/>
<rect x="475.50" y="200.40" width="9.10" height="9.10" fill="#1b3dad"/>
<rect x="484.60" y="200.40" width="9.10" height="9.10" fill="#3b52c6"/>
<rect x="302.60" y="209.50" width="9.10" height="9.10" fill="#6575d9"/>
<rect x="311.70" y="209.50" width="9.10" height="9.10" fill="#4c60cf"/>
<rect x="320.80" y="209.50" width="9.10" height="9.10" fill="#6575d9"/>
<rect x="329.90" y="209.50" width="9.10" height="9.10" fill="#d6d8fa"/>
<rect x="339.00" y="209.50" width="9.10" height="9.10" fill="#d6d8fa"/>
<rect x="348.10" y="209.50" width="9.10" height="9.10" fill="#848ce3"/>
<rect x="357.20" y="209.50" width="9.10" height="9.10" fill="#6575d9"/>
<rect x="366.30" y="209.50" width="9.10" height="9.10" fill="#6575d9"/>
<rect x="375.40" y="209.50" width="9.10" height="9.10" fill="#848ce3"/>
<rect x="384.50" y="209.50" width="9.10" height="9.10" fill="#d6d8fa"/>
<rect x="393.60" y="209.50" width="9.10" height="9.10" fill="#d6d8fa"/>
<rect x="402.70" y="209.50" width="9.10" height="9.10" fill="#d6d8fa"/>
<rect x="411.80" y="209.50" width="9.10" height="9.10" fill="#d6d8fa"/>
<rect x="420.90" y="209.50" width="9.10" height="9.10" fill="#d6d8fa"/>
<rect x="430.00" y="209.50" width="9.10" height="9.10" fill="#d6d8fa"/>
<rect x="439.10" y="209.50" width="9.10" height="9.10" fill="#d6d8fa"/>
<rect x="448.20" y="209.50" width="9.10" height="9.10" fill="#d6d8fa"/>
<rect x="457.30" y="209.50" width="9.10" height="9.10" fill="#6575d9"/>
<rect x="466.40" y="209.50" width="9.10" height="9.10" fill="#3b52c6"/>
<rect x="475.50" y="209.50" width="9.10" height="9.10" fill="#2445b7"/>
<rect x="484.60" y="209.50" width="9.10" height="9.10" fill="#3b52c6"/>
<rect x="302.60" y="218.60" width="9.10" height="9.10" fill="#848ce3"/>
<rect x="311.70" y="218.60" width="9.10" height="9.10" fill="#4c60cf"/>
<rect x="320.80" y="218.60" width="9.10" height="9.10" fill="#6575d9"/>
<rect x="329.90" y="218.60" width="9.10" height="9.10" fill="#d6d8fa"/>
<rect x="339.00" y="218.60" width="9.10" height="9.10" fill="#848ce3"/>
<rect x="348.10" y="218.60" width="9.10" height="9.10" fill="#4c60cf"/>
<rect x="357.20" y="218.60" width="9.10" height="9.10" fill="#3b52c6"/>
<rect x="366.30" y="218.60" width="9.10" height="9.10" fill="#3b52c6"/>
<rect x="375.40" y="218.60" width="9.10" height="9.10" fill="#4c60cf"/>
<rect x="384.50" y="218.60" width="9.10" height="9.10" fill="#6575d9"/>
<rect x="393.60" y="218.60" width="9.10" height="9.10" fill="#6575d9"/>
<rect x="402.70" y="218.60" width="9.10" height="9.10" fill="#848ce3"/>
<rect x="411.80" y="218.60" width="9.10" height="9.10" fill="#d6d8fa"/>
<rect x="420.90" y="218.60" width="9.10" height="9.10" fill="#a9adf0"/>
<rect x="430.00" y="218.60" width="9.10" height="9.10" fill="#a9adf0"/>
<rect x="439.10" y="218.60" width="9.10" height="9.10" fill="#d6d8fa"/>
<rect x="448.20" y="218.60" width="9.10" height="9.10" fill="#a9adf0"/>
<rect x="457.30" y="218.60" width="9.10" height="9.10" fill="#6575d9"/>
<rect x="466.40" y="218.60" width="9.10" height="9.10" fill="#4c60cf"/>
<rect x="475.50" y="218.60" width="9.10" height="9.10" fill="#2445b7"/>
<rect x="484.60" y="218.60" width="9.10" height="9.10" fill="#3b52c6"/>
<rect x="302.60" y="227.70" width="9.10" height="9.10" fill="#848ce3"/>
<rect x="311.70" y="227.70" width="9.10" height="9.10" fill="#4c60cf"/>
<rect x="320.80" y="227.70" width="9.10" height="9.10" fill="#6575d9"/>
<rect x="329.90" y="227.70" width="9.10" height="9.10" fill="#d6d8fa"/>
<rect x="339.00" y="227.70" width="9.10" height="9.10" fill="#848ce3"/>
<rect x="348.10" y="227.70" width="9.10" height="9.10" fill="#3b52c6"/>
<rect x="357.20" y="227.70" width="9.10" height="9.10" fill="#6575d9"/>
<rect x="366.30" y="227.70" width="9.10" height="9.10" fill="#6575d9"/>
<rect x="375.40" y="227.70" width="9.10" height="9.10" fill="#6575d9"/>
<rect x="384.50" y="227.70" width="9.10" height="9.10" fill="#6575d9"/>
<rect x="393.60" y="227.70" width="9.10" height="9.10" fill="#6575d9"/>
<rect x="402.70" y="227.70" width="9.10" height="9.10" fill="#848ce3"/>
<rect x="411.80" y="227.70" width="9.10" height="9.10" fill="#d6d8fa"/>
<rect x="420.90" y="227.70" width="9.10" height="9.10" fill="#848ce3"/>
<rect x="430.00" y="227.70" width="9.10" height="9.10" fill="#6575d9"/>
<rect x="439.10" y="227.70" width="9.10" height="9.10" fill="#848ce3"/>
<rect x="448.20" y="227.70" width="9.10" height="9.10" fill="#d6d8fa"/>
<rect x="457.30" y="227.70" width="9.10" height="9.10" fill="#6575d9"/>
<rect x="466.40" y="227.70" width="9.10" height="9.10" fill="#4c60cf"/>
<rect x="475.50" y="227.70" width="9.10" height="9.10" fill="#4c60cf"/>
<rect x="484.60" y="227.70" width="9.10" height="9.10" fill="#6575d9"/>
<rect x="439.10" y="236.80" width="9.10" height="9.10" fill="#848ce3"/>
<rect x="448.20" y="236.80" width="9.10" height="9.10" fill="#a9adf0"/>
<rect x="457.30" y="236.80" width="9.10" height="9.10" fill="#4c60cf"/>
<rect x="466.40" y="236.80" width="9.10" height="9.10" fill="#4c60cf"/>
<rect x="475.50" y="236.80" width="9.10" height="9.10" fill="#a9adf0"/></g>
<g fill="none" stroke="#5e628c" stroke-opacity="0.6" stroke-width="0.5"><rect x="302.60" y="73.00" width="9.10" height="9.10"/>
<rect x="311.70" y="73.00" width="9.10" height="9.10"/>
<rect x="320.80" y="73.00" width="9.10" height="9.10"/>
<rect x="302.60" y="82.10" width="9.10" height="9.10"/>
<rect x="311.70" y="82.10" width="9.10" height="9.10"/>
<rect x="320.80" y="82.10" width="9.10" height="9.10"/>
<rect x="329.90" y="82.10" width="9.10" height="9.10"/>
<rect x="339.00" y="82.10" width="9.10" height="9.10"/>
<rect x="348.10" y="82.10" width="9.10" height="9.10"/>
<rect x="357.20" y="82.10" width="9.10" height="9.10"/>
<rect x="366.30" y="82.10" width="9.10" height="9.10"/>
<rect x="375.40" y="82.10" width="9.10" height="9.10"/>
<rect x="384.50" y="82.10" width="9.10" height="9.10"/>
<rect x="393.60" y="82.10" width="9.10" height="9.10"/>
<rect x="402.70" y="82.10" width="9.10" height="9.10"/>
<rect x="411.80" y="82.10" width="9.10" height="9.10"/>
<rect x="420.90" y="82.10" width="9.10" height="9.10"/>
<rect x="430.00" y="82.10" width="9.10" height="9.10"/>
<rect x="439.10" y="82.10" width="9.10" height="9.10"/>
<rect x="448.20" y="82.10" width="9.10" height="9.10"/>
<rect x="302.60" y="91.20" width="9.10" height="9.10"/>
<rect x="311.70" y="91.20" width="9.10" height="9.10"/>
<rect x="320.80" y="91.20" width="9.10" height="9.10"/>
<rect x="329.90" y="91.20" width="9.10" height="9.10"/>
<rect x="339.00" y="91.20" width="9.10" height="9.10"/>
<rect x="348.10" y="91.20" width="9.10" height="9.10"/>
<rect x="357.20" y="91.20" width="9.10" height="9.10"/>
<rect x="366.30" y="91.20" width="9.10" height="9.10"/>
<rect x="375.40" y="91.20" width="9.10" height="9.10"/>
<rect x="384.50" y="91.20" width="9.10" height="9.10"/>
<rect x="393.60" y="91.20" width="9.10" height="9.10"/>
<rect x="402.70" y="91.20" width="9.10" height="9.10"/>
<rect x="411.80" y="91.20" width="9.10" height="9.10"/>
<rect x="420.90" y="91.20" width="9.10" height="9.10"/>
<rect x="430.00" y="91.20" width="9.10" height="9.10"/>
<rect x="439.10" y="91.20" width="9.10" height="9.10"/>
<rect x="448.20" y="91.20" width="9.10" height="9.10"/>
<rect x="457.30" y="91.20" width="9.10" height="9.10"/>
<rect x="466.40" y="91.20" width="9.10" height="9.10"/>
<rect x="475.50" y="91.20" width="9.10" height="9.10"/>
<rect x="484.60" y="91.20" width="9.10" height="9.10"/>
<rect x="493.70" y="91.20" width="9.10" height="9.10"/>
<rect x="502.80" y="91.20" width="9.10" height="9.10"/>
<rect x="511.90" y="91.20" width="9.10" height="9.10"/>
<rect x="302.60" y="100.30" width="9.10" height="9.10"/>
<rect x="311.70" y="100.30" width="9.10" height="9.10"/>
<rect x="320.80" y="100.30" width="9.10" height="9.10"/>
<rect x="329.90" y="100.30" width="9.10" height="9.10"/>
<rect x="339.00" y="100.30" width="9.10" height="9.10"/>
<rect x="348.10" y="100.30" width="9.10" height="9.10"/>
<rect x="357.20" y="100.30" width="9.10" height="9.10"/>
<rect x="366.30" y="100.30" width="9.10" height="9.10"/>
<rect x="375.40" y="100.30" width="9.10" height="9.10"/>
<rect x="384.50" y="100.30" width="9.10" height="9.10"/>
<rect x="393.60" y="100.30" width="9.10" height="9.10"/>
<rect x="402.70" y="100.30" width="9.10" height="9.10"/>
<rect x="411.80" y="100.30" width="9.10" height="9.10"/>
<rect x="420.90" y="100.30" width="9.10" height="9.10"/>
<rect x="430.00" y="100.30" width="9.10" height="9.10"/>
<rect x="439.10" y="100.30" width="9.10" height="9.10"/>
<rect x="448.20" y="100.30" width="9.10" height="9.10"/>
<rect x="457.30" y="100.30" width="9.10" height="9.10"/>
<rect x="466.40" y="100.30" width="9.10" height="9.10"/>
<rect x="475.50" y="100.30" width="9.10" height="9.10"/>
<rect x="484.60" y="100.30" width="9.10" height="9.10"/>
<rect x="493.70" y="100.30" width="9.10" height="9.10"/>
<rect x="502.80" y="100.30" width="9.10" height="9.10"/>
<rect x="511.90" y="100.30" width="9.10" height="9.10"/>
<rect x="311.70" y="109.40" width="9.10" height="9.10"/>
<rect x="320.80" y="109.40" width="9.10" height="9.10"/>
<rect x="329.90" y="109.40" width="9.10" height="9.10"/>
<rect x="339.00" y="109.40" width="9.10" height="9.10"/>
<rect x="348.10" y="109.40" width="9.10" height="9.10"/>
<rect x="357.20" y="109.40" width="9.10" height="9.10"/>
<rect x="366.30" y="109.40" width="9.10" height="9.10"/>
<rect x="375.40" y="109.40" width="9.10" height="9.10"/>
<rect x="384.50" y="109.40" width="9.10" height="9.10"/>
<rect x="393.60" y="109.40" width="9.10" height="9.10"/>
<rect x="402.70" y="109.40" width="9.10" height="9.10"/>
<rect x="411.80" y="109.40" width="9.10" height="9.10"/>
<rect x="420.90" y="109.40" width="9.10" height="9.10"/>
<rect x="430.00" y="109.40" width="9.10" height="9.10"/>
<rect x="439.10" y="109.40" width="9.10" height="9.10"/>
<rect x="448.20" y="109.40" width="9.10" height="9.10"/>
<rect x="457.30" y="109.40" width="9.10" height="9.10"/>
<rect x="466.40" y="109.40" width="9.10" height="9.10"/>
<rect x="475.50" y="109.40" width="9.10" height="9.10"/>
<rect x="484.60" y="109.40" width="9.10" height="9.10"/>
<rect x="493.70" y="109.40" width="9.10" height="9.10"/>
<rect x="502.80" y="109.40" width="9.10" height="9.10"/>
<rect x="311.70" y="118.50" width="9.10" height="9.10"/>
<rect x="320.80" y="118.50" width="9.10" height="9.10"/>
<rect x="329.90" y="118.50" width="9.10" height="9.10"/>
<rect x="339.00" y="118.50" width="9.10" height="9.10"/>
<rect x="348.10" y="118.50" width="9.10" height="9.10"/>
<rect x="357.20" y="118.50" width="9.10" height="9.10"/>
<rect x="366.30" y="118.50" width="9.10" height="9.10"/>
<rect x="375.40" y="118.50" width="9.10" height="9.10"/>
<rect x="384.50" y="118.50" width="9.10" height="9.10"/>
<rect x="393.60" y="118.50" width="9.10" height="9.10"/>
<rect x="402.70" y="118.50" width="9.10" height="9.10"/>
<rect x="411.80" y="118.50" width="9.10" height="9.10"/>
<rect x="420.90" y="118.50" width="9.10" height="9.10"/>
<rect x="430.00" y="118.50" width="9.10" height="9.10"/>
<rect x="439.10" y="118.50" width="9.10" height="9.10"/>
<rect x="448.20" y="118.50" width="9.10" height="9.10"/>
<rect x="457.30" y="118.50" width="9.10" height="9.10"/>
<rect x="466.40" y="118.50" width="9.10" height="9.10"/>
<rect x="475.50" y="118.50" width="9.10" height="9.10"/>
<rect x="484.60" y="118.50" width="9.10" height="9.10"/>
<rect x="493.70" y="118.50" width="9.10" height="9.10"/>
<rect x="502.80" y="118.50" width="9.10" height="9.10"/>
<rect x="311.70" y="127.60" width="9.10" height="9.10"/>
<rect x="320.80" y="127.60" width="9.10" height="9.10"/>
<rect x="329.90" y="127.60" width="9.10" height="9.10"/>
<rect x="339.00" y="127.60" width="9.10" height="9.10"/>
<rect x="348.10" y="127.60" width="9.10" height="9.10"/>
<rect x="357.20" y="127.60" width="9.10" height="9.10"/>
<rect x="366.30" y="127.60" width="9.10" height="9.10"/>
<rect x="375.40" y="127.60" width="9.10" height="9.10"/>
<rect x="384.50" y="127.60" width="9.10" height="9.10"/>
<rect x="393.60" y="127.60" width="9.10" height="9.10"/>
<rect x="402.70" y="127.60" width="9.10" height="9.10"/>
<rect x="411.80" y="127.60" width="9.10" height="9.10"/>
<rect x="420.90" y="127.60" width="9.10" height="9.10"/>
<rect x="430.00" y="127.60" width="9.10" height="9.10"/>
<rect x="439.10" y="127.60" width="9.10" height="9.10"/>
<rect x="448.20" y="127.60" width="9.10" height="9.10"/>
<rect x="457.30" y="127.60" width="9.10" height="9.10"/>
<rect x="466.40" y="127.60" width="9.10" height="9.10"/>
<rect x="475.50" y="127.60" width="9.10" height="9.10"/>
<rect x="484.60" y="127.60" width="9.10" height="9.10"/>
<rect x="493.70" y="127.60" width="9.10" height="9.10"/>
<rect x="502.80" y="127.60" width="9.10" height="9.10"/>
<rect x="311.70" y="136.70" width="9.10" height="9.10"/>
<rect x="320.80" y="136.70" width="9.10" height="9.10"/>
<rect x="329.90" y="136.70" width="9.10" height="9.10"/>
<rect x="339.00" y="136.70" width="9.10" height="9.10"/>
<rect x="348.10" y="136.70" width="9.10" height="9.10"/>
<rect x="357.20" y="136.70" width="9.10" height="9.10"/>
<rect x="366.30" y="136.70" width="9.10" height="9.10"/>
<rect x="375.40" y="136.70" width="9.10" height="9.10"/>
<rect x="384.50" y="136.70" width="9.10" height="9.10"/>
<rect x="393.60" y="136.70" width="9.10" height="9.10"/>
<rect x="402.70" y="136.70" width="9.10" height="9.10"/>
<rect x="411.80" y="136.70" width="9.10" height="9.10"/>
<rect x="420.90" y="136.70" width="9.10" height="9.10"/>
<rect x="430.00" y="136.70" width="9.10" height="9.10"/>
<rect x="439.10" y="136.70" width="9.10" height="9.10"/>
<rect x="448.20" y="136.70" width="9.10" height="9.10"/>
<rect x="457.30" y="136.70" width="9.10" height="9.10"/>
<rect x="466.40" y="136.70" width="9.10" height="9.10"/>
<rect x="475.50" y="136.70" width="9.10" height="9.10"/>
<rect x="484.60" y="136.70" width="9.10" height="9.10"/>
<rect x="493.70" y="136.70" width="9.10" height="9.10"/>
<rect x="502.80" y="136.70" width="9.10" height="9.10"/>
<rect x="311.70" y="145.80" width="9.10" height="9.10"/>
<rect x="320.80" y="145.80" width="9.10" height="9.10"/>
<rect x="329.90" y="145.80" width="9.10" height="9.10"/>
<rect x="339.00" y="145.80" width="9.10" height="9.10"/>
<rect x="348.10" y="145.80" width="9.10" height="9.10"/>
<rect x="357.20" y="145.80" width="9.10" height="9.10"/>
<rect x="366.30" y="145.80" width="9.10" height="9.10"/>
<rect x="375.40" y="145.80" width="9.10" height="9.10"/>
<rect x="384.50" y="145.80" width="9.10" height="9.10"/>
<rect x="393.60" y="145.80" width="9.10" height="9.10"/>
<rect x="402.70" y="145.80" width="9.10" height="9.10"/>
<rect x="411.80" y="145.80" width="9.10" height="9.10"/>
<rect x="420.90" y="145.80" width="9.10" height="9.10"/>
<rect x="430.00" y="145.80" width="9.10" height="9.10"/>
<rect x="439.10" y="145.80" width="9.10" height="9.10"/>
<rect x="448.20" y="145.80" width="9.10" height="9.10"/>
<rect x="457.30" y="145.80" width="9.10" height="9.10"/>
<rect x="466.40" y="145.80" width="9.10" height="9.10"/>
<rect x="475.50" y="145.80" width="9.10" height="9.10"/>
<rect x="484.60" y="145.80" width="9.10" height="9.10"/>
<rect x="493.70" y="145.80" width="9.10" height="9.10"/>
<rect x="311.70" y="154.90" width="9.10" height="9.10"/>
<rect x="320.80" y="154.90" width="9.10" height="9.10"/>
<rect x="329.90" y="154.90" width="9.10" height="9.10"/>
<rect x="339.00" y="154.90" width="9.10" height="9.10"/>
<rect x="348.10" y="154.90" width="9.10" height="9.10"/>
<rect x="357.20" y="154.90" width="9.10" height="9.10"/>
<rect x="366.30" y="154.90" width="9.10" height="9.10"/>
<rect x="375.40" y="154.90" width="9.10" height="9.10"/>
<rect x="384.50" y="154.90" width="9.10" height="9.10"/>
<rect x="393.60" y="154.90" width="9.10" height="9.10"/>
<rect x="402.70" y="154.90" width="9.10" height="9.10"/>
<rect x="411.80" y="154.90" width="9.10" height="9.10"/>
<rect x="420.90" y="154.90" width="9.10" height="9.10"/>
<rect x="430.00" y="154.90" width="9.10" height="9.10"/>
<rect x="439.10" y="154.90" width="9.10" height="9.10"/>
<rect x="448.20" y="154.90" width="9.10" height="9.10"/>
<rect x="457.30" y="154.90" width="9.10" height="9.10"/>
<rect x="466.40" y="154.90" width="9.10" height="9.10"/>
<rect x="475.50" y="154.90" width="9.10" height="9.10"/>
<rect x="484.60" y="154.90" width="9.10" height="9.10"/>
<rect x="493.70" y="154.90" width="9.10" height="9.10"/>
<rect x="311.70" y="164.00" width="9.10" height="9.10"/>
<rect x="320.80" y="164.00" width="9.10" height="9.10"/>
<rect x="329.90" y="164.00" width="9.10" height="9.10"/>
<rect x="339.00" y="164.00" width="9.10" height="9.10"/>
<rect x="348.10" y="164.00" width="9.10" height="9.10"/>
<rect x="357.20" y="164.00" width="9.10" height="9.10"/>
<rect x="366.30" y="164.00" width="9.10" height="9.10"/>
<rect x="375.40" y="164.00" width="9.10" height="9.10"/>
<rect x="384.50" y="164.00" width="9.10" height="9.10"/>
<rect x="393.60" y="164.00" width="9.10" height="9.10"/>
<rect x="402.70" y="164.00" width="9.10" height="9.10"/>
<rect x="411.80" y="164.00" width="9.10" height="9.10"/>
<rect x="420.90" y="164.00" width="9.10" height="9.10"/>
<rect x="430.00" y="164.00" width="9.10" height="9.10"/>
<rect x="439.10" y="164.00" width="9.10" height="9.10"/>
<rect x="448.20" y="164.00" width="9.10" height="9.10"/>
<rect x="457.30" y="164.00" width="9.10" height="9.10"/>
<rect x="466.40" y="164.00" width="9.10" height="9.10"/>
<rect x="475.50" y="164.00" width="9.10" height="9.10"/>
<rect x="484.60" y="164.00" width="9.10" height="9.10"/>
<rect x="493.70" y="164.00" width="9.10" height="9.10"/>
<rect x="311.70" y="173.10" width="9.10" height="9.10"/>
<rect x="320.80" y="173.10" width="9.10" height="9.10"/>
<rect x="329.90" y="173.10" width="9.10" height="9.10"/>
<rect x="339.00" y="173.10" width="9.10" height="9.10"/>
<rect x="348.10" y="173.10" width="9.10" height="9.10"/>
<rect x="357.20" y="173.10" width="9.10" height="9.10"/>
<rect x="366.30" y="173.10" width="9.10" height="9.10"/>
<rect x="375.40" y="173.10" width="9.10" height="9.10"/>
<rect x="384.50" y="173.10" width="9.10" height="9.10"/>
<rect x="393.60" y="173.10" width="9.10" height="9.10"/>
<rect x="402.70" y="173.10" width="9.10" height="9.10"/>
<rect x="411.80" y="173.10" width="9.10" height="9.10"/>
<rect x="420.90" y="173.10" width="9.10" height="9.10"/>
<rect x="430.00" y="173.10" width="9.10" height="9.10"/>
<rect x="439.10" y="173.10" width="9.10" height="9.10"/>
<rect x="448.20" y="173.10" width="9.10" height="9.10"/>
<rect x="457.30" y="173.10" width="9.10" height="9.10"/>
<rect x="466.40" y="173.10" width="9.10" height="9.10"/>
<rect x="475.50" y="173.10" width="9.10" height="9.10"/>
<rect x="484.60" y="173.10" width="9.10" height="9.10"/>
<rect x="493.70" y="173.10" width="9.10" height="9.10"/>
<rect x="311.70" y="182.20" width="9.10" height="9.10"/>
<rect x="320.80" y="182.20" width="9.10" height="9.10"/>
<rect x="329.90" y="182.20" width="9.10" height="9.10"/>
<rect x="339.00" y="182.20" width="9.10" height="9.10"/>
<rect x="348.10" y="182.20" width="9.10" height="9.10"/>
<rect x="357.20" y="182.20" width="9.10" height="9.10"/>
<rect x="366.30" y="182.20" width="9.10" height="9.10"/>
<rect x="375.40" y="182.20" width="9.10" height="9.10"/>
<rect x="384.50" y="182.20" width="9.10" height="9.10"/>
<rect x="393.60" y="182.20" width="9.10" height="9.10"/>
<rect x="402.70" y="182.20" width="9.10" height="9.10"/>
<rect x="411.80" y="182.20" width="9.10" height="9.10"/>
<rect x="420.90" y="182.20" width="9.10" height="9.10"/>
<rect x="430.00" y="182.20" width="9.10" height="9.10"/>
<rect x="439.10" y="182.20" width="9.10" height="9.10"/>
<rect x="448.20" y="182.20" width="9.10" height="9.10"/>
<rect x="457.30" y="182.20" width="9.10" height="9.10"/>
<rect x="466.40" y="182.20" width="9.10" height="9.10"/>
<rect x="475.50" y="182.20" width="9.10" height="9.10"/>
<rect x="484.60" y="182.20" width="9.10" height="9.10"/>
<rect x="493.70" y="182.20" width="9.10" height="9.10"/>
<rect x="311.70" y="191.30" width="9.10" height="9.10"/>
<rect x="320.80" y="191.30" width="9.10" height="9.10"/>
<rect x="329.90" y="191.30" width="9.10" height="9.10"/>
<rect x="339.00" y="191.30" width="9.10" height="9.10"/>
<rect x="348.10" y="191.30" width="9.10" height="9.10"/>
<rect x="357.20" y="191.30" width="9.10" height="9.10"/>
<rect x="366.30" y="191.30" width="9.10" height="9.10"/>
<rect x="375.40" y="191.30" width="9.10" height="9.10"/>
<rect x="384.50" y="191.30" width="9.10" height="9.10"/>
<rect x="393.60" y="191.30" width="9.10" height="9.10"/>
<rect x="402.70" y="191.30" width="9.10" height="9.10"/>
<rect x="411.80" y="191.30" width="9.10" height="9.10"/>
<rect x="420.90" y="191.30" width="9.10" height="9.10"/>
<rect x="430.00" y="191.30" width="9.10" height="9.10"/>
<rect x="439.10" y="191.30" width="9.10" height="9.10"/>
<rect x="448.20" y="191.30" width="9.10" height="9.10"/>
<rect x="457.30" y="191.30" width="9.10" height="9.10"/>
<rect x="466.40" y="191.30" width="9.10" height="9.10"/>
<rect x="475.50" y="191.30" width="9.10" height="9.10"/>
<rect x="484.60" y="191.30" width="9.10" height="9.10"/>
<rect x="311.70" y="200.40" width="9.10" height="9.10"/>
<rect x="320.80" y="200.40" width="9.10" height="9.10"/>
<rect x="329.90" y="200.40" width="9.10" height="9.10"/>
<rect x="339.00" y="200.40" width="9.10" height="9.10"/>
<rect x="348.10" y="200.40" width="9.10" height="9.10"/>
<rect x="357.20" y="200.40" width="9.10" height="9.10"/>
<rect x="366.30" y="200.40" width="9.10" height="9.10"/>
<rect x="375.40" y="200.40" width="9.10" height="9.10"/>
<rect x="384.50" y="200.40" width="9.10" height="9.10"/>
<rect x="393.60" y="200.40" width="9.10" height="9.10"/>
<rect x="402.70" y="200.40" width="9.10" height="9.10"/>
<rect x="411.80" y="200.40" width="9.10" height="9.10"/>
<rect x="420.90" y="200.40" width="9.10" height="9.10"/>
<rect x="430.00" y="200.40" width="9.10" height="9.10"/>
<rect x="439.10" y="200.40" width="9.10" height="9.10"/>
<rect x="448.20" y="200.40" width="9.10" height="9.10"/>
<rect x="457.30" y="200.40" width="9.10" height="9.10"/>
<rect x="466.40" y="200.40" width="9.10" height="9.10"/>
<rect x="475.50" y="200.40" width="9.10" height="9.10"/>
<rect x="484.60" y="200.40" width="9.10" height="9.10"/>
<rect x="302.60" y="209.50" width="9.10" height="9.10"/>
<rect x="311.70" y="209.50" width="9.10" height="9.10"/>
<rect x="320.80" y="209.50" width="9.10" height="9.10"/>
<rect x="329.90" y="209.50" width="9.10" height="9.10"/>
<rect x="339.00" y="209.50" width="9.10" height="9.10"/>
<rect x="348.10" y="209.50" width="9.10" height="9.10"/>
<rect x="357.20" y="209.50" width="9.10" height="9.10"/>
<rect x="366.30" y="209.50" width="9.10" height="9.10"/>
<rect x="375.40" y="209.50" width="9.10" height="9.10"/>
<rect x="384.50" y="209.50" width="9.10" height="9.10"/>
<rect x="393.60" y="209.50" width="9.10" height="9.10"/>
<rect x="402.70" y="209.50" width="9.10" height="9.10"/>
<rect x="411.80" y="209.50" width="9.10" height="9.10"/>
<rect x="420.90" y="209.50" width="9.10" height="9.10"/>
<rect x="430.00" y="209.50" width="9.10" height="9.10"/>
<rect x="439.10" y="209.50" width="9.10" height="9.10"/>
<rect x="448.20" y="209.50" width="9.10" height="9.10"/>
<rect x="457.30" y="209.50" width="9.10" height="9.10"/>
<rect x="466.40" y="209.50" width="9.10" height="9.10"/>
<rect x="475.50" y="209.50" width="9.10" height="9.10"/>
<rect x="484.60" y="209.50" width="9.10" height="9.10"/>
<rect x="302.60" y="218.60" width="9.10" height="9.10"/>
<rect x="311.70" y="218.60" width="9.10" height="9.10"/>
<rect x="320.80" y="218.60" width="9.10" height="9.10"/>
<rect x="329.90" y="218.60" width="9.10" height="9.10"/>
<rect x="339.00" y="218.60" width="9.10" height="9.10"/>
<rect x="348.10" y="218.60" width="9.10" height="9.10"/>
<rect x="357.20" y="218.60" width="9.10" height="9.10"/>
<rect x="366.30" y="218.60" width="9.10" height="9.10"/>
<rect x="375.40" y="218.60" width="9.10" height="9.10"/>
<rect x="384.50" y="218.60" width="9.10" height="9.10"/>
<rect x="393.60" y="218.60" width="9.10" height="9.10"/>
<rect x="402.70" y="218.60" width="9.10" height="9.10"/>
<rect x="411.80" y="218.60" width="9.10" height="9.10"/>
<rect x="420.90" y="218.60" width="9.10" height="9.10"/>
<rect x="430.00" y="218.60" width="9.10" height="9.10"/>
<rect x="439.10" y="218.60" width="9.10" height="9.10"/>
<rect x="448.20" y="218.60" width="9.10" height="9.10"/>
<rect x="457.30" y="218.60" width="9.10" height="9.10"/>
<rect x="466.40" y="218.60" width="9.10" height="9.10"/>
<rect x="475.50" y="218.60" width="9.10" height="9.10"/>
<rect x="484.60" y="218.60" width="9.10" height="9.10"/>
<rect x="302.60" y="227.70" width="9.10" height="9.10"/>
<rect x="311.70" y="227.70" width="9.10" height="9.10"/>
<rect x="320.80" y="227.70" width="9.10" height="9.10"/>
<rect x="329.90" y="227.70" width="9.10" height="9.10"/>
<rect x="339.00" y="227.70" width="9.10" height="9.10"/>
<rect x="348.10" y="227.70" width="9.10" height="9.10"/>
<rect x="357.20" y="227.70" width="9.10" height="9.10"/>
<rect x="366.30" y="227.70" width="9.10" height="9.10"/>
<rect x="375.40" y="227.70" width="9.10" height="9.10"/>
<rect x="384.50" y="227.70" width="9.10" height="9.10"/>
<rect x="393.60" y="227.70" width="9.10" height="9.10"/>
<rect x="402.70" y="227.70" width="9.10" height="9.10"/>
<rect x="411.80" y="227.70" width="9.10" height="9.10"/>
<rect x="420.90" y="227.70" width="9.10" height="9.10"/>
<rect x="430.00" y="227.70" width="9.10" height="9.10"/>
<rect x="439.10" y="227.70" width="9.10" height="9.10"/>
<rect x="448.20" y="227.70" width="9.10" height="9.10"/>
<rect x="457.30" y="227.70" width="9.10" height="9.10"/>
<rect x="466.40" y="227.70" width="9.10" height="9.10"/>
<rect x="475.50" y="227.70" width="9.10" height="9.10"/>
<rect x="484.60" y="227.70" width="9.10" height="9.10"/>
<rect x="439.10" y="236.80" width="9.10" height="9.10"/>
<rect x="448.20" y="236.80" width="9.10" height="9.10"/>
<rect x="457.30" y="236.80" width="9.10" height="9.10"/>
<rect x="466.40" y="236.80" width="9.10" height="9.10"/>
<rect x="475.50" y="236.80" width="9.10" height="9.10"/></g>
<polygon points="302.6,75 390,82.2 521,86.5 517,108 513.6,122 506,154 503,170 490,233 486,245 438,240 305,239.7 305.5,210 309,208 310.5,118" fill="none" stroke="#f3edc0" stroke-width="1.3"/>
<polygon points="302.6,75 390,82.2 521,86.5 517,108 513.6,122 506,154 503,170 490,233 486,245 438,240 305,239.7 305.5,210 309,208 310.5,118" fill="none" stroke="#c8324a" stroke-width="0.9" stroke-dasharray="4 1.5 1 1.5"/>
<rect x="293.4" y="28.8" width="244.5" height="236.8" fill="none" stroke="#151515" stroke-width="1.5"/>
<!-- north arrows & scale bars -->
<text x="235.7" y="47.6" class="na">N</text>
<path d="M239.4,50.4 L236.3,60.8 L239.6,58.9 L243.2,60.8 Z" fill="#111"/>
<text x="519.4" y="47.7" class="na">N</text>
<path d="M523.2,50.6 L519.9,61 L523.4,59 L526.9,61 Z" fill="#111"/>
<text x="208.6" y="253.6" class="sb">0</text><text x="224.2" y="253.6" class="sb">100</text><text x="240.6" y="253.6" class="sb">200 M</text>
<path d="M209.3,258.3 L209.3,260.2 L246.2,260.2 L246.2,258.3" fill="none" stroke="#555" stroke-width="0.7"/>
<text x="482.7" y="253.5" class="sb">0</text><text x="498.3" y="253.5" class="sb">100</text><text x="514.4" y="253.5" class="sb">200 M</text>
<path d="M483.6,258.2 L483.6,260.1 L521,260.1 L521,258.2" fill="none" stroke="#555" stroke-width="0.7"/>
<!-- legends -->
<text x="13.2" y="274" class="lgh">Legend</text>
<text x="293.4" y="274" class="lgh">Legend</text>
<rect x="12.2" y="280.6" width="11.2" height="4.8" fill="#d6d8fa" stroke="#9a9ab8" stroke-width="0.45"/>
<text x="24.6" y="284.70000000000005" class="lg" textLength="63.2" lengthAdjust="spacingAndGlyphs">62,260. 453125 - 406,146. 210750</text>
<rect x="12.2" y="288.2" width="11.2" height="4.8" fill="#a9adf0" stroke="#9a9ab8" stroke-width="0.45"/>
<text x="24.6" y="292.3" class="lg" textLength="65" lengthAdjust="spacingAndGlyphs">406,146. 210751 - 628,432. 375000</text>
<rect x="12.2" y="295.8" width="11.2" height="4.8" fill="#848ce3" stroke="#9a9ab8" stroke-width="0.45"/>
<text x="24.6" y="299.90000000000003" class="lg" textLength="65" lengthAdjust="spacingAndGlyphs">628,432. 375001 - 900,850. 187500</text>
<rect x="91.6" y="280.6" width="11.2" height="4.8" fill="#6575d9" stroke="#9a9ab8" stroke-width="0.45"/>
<text x="104.4" y="284.70000000000005" class="lg" textLength="64.6" lengthAdjust="spacingAndGlyphs">900,850. 187501 - 945,238. 937500</text>
<rect x="91.6" y="288.2" width="11.2" height="4.8" fill="#4c60cf" stroke="#9a9ab8" stroke-width="0.45"/>
<text x="104.4" y="292.3" class="lg" textLength="66.6" lengthAdjust="spacingAndGlyphs">945,238. 937501 - 1,061,647. 875000</text>
<rect x="91.6" y="295.8" width="11.2" height="4.8" fill="#3b52c6" stroke="#9a9ab8" stroke-width="0.45"/>
<text x="104.4" y="299.90000000000003" class="lg" textLength="69.6" lengthAdjust="spacingAndGlyphs">1,061,647. 875001 - 1,156,723. 625000</text>
<rect x="177" y="280.6" width="11.2" height="4.8" fill="#2445b7" stroke="#9a9ab8" stroke-width="0.45"/>
<text x="190.3" y="284.70000000000005" class="lg" textLength="69.5" lengthAdjust="spacingAndGlyphs">1,156,723. 625001 - 1,261,546. 250000</text>
<rect x="177" y="288.2" width="11.2" height="4.8" fill="#1b3dad" stroke="#9a9ab8" stroke-width="0.45"/>
<text x="190.3" y="292.3" class="lg" textLength="69.5" lengthAdjust="spacingAndGlyphs">1,261,546. 250001 - 1,414,193. 625000</text>
<rect x="177" y="295.8" width="11.2" height="4.8" fill="#11309c" stroke="#9a9ab8" stroke-width="0.45"/>
<text x="190.3" y="299.90000000000003" class="lg" textLength="69.5" lengthAdjust="spacingAndGlyphs">1,414,193. 625001 - 1,654,362. 625000</text>
<rect x="292.7" y="279.6" width="11.2" height="4.8" fill="#d6d8fa" stroke="#9a9ab8" stroke-width="0.45"/>
<text x="306" y="283.70000000000005" class="lg" textLength="44.4" lengthAdjust="spacingAndGlyphs">0. 000000 - 28. 263401</text>
<rect x="292.7" y="286.9" width="11.2" height="4.8" fill="#a9adf0" stroke="#9a9ab8" stroke-width="0.45"/>
<text x="306" y="291.0" class="lg" textLength="46.5" lengthAdjust="spacingAndGlyphs">28. 263402 - 93. 016988</text>
<rect x="292.7" y="294.3" width="11.2" height="4.8" fill="#848ce3" stroke="#9a9ab8" stroke-width="0.45"/>
<text x="306" y="298.40000000000003" class="lg" textLength="50.2" lengthAdjust="spacingAndGlyphs">93. 016989 - 170. 082565</text>
<rect x="375.4" y="279.6" width="11.2" height="4.8" fill="#6575d9" stroke="#9a9ab8" stroke-width="0.45"/>
<text x="388.5" y="283.70000000000005" class="lg" textLength="52" lengthAdjust="spacingAndGlyphs">170. 082566 - 257. 303375</text>
<rect x="375.4" y="286.9" width="11.2" height="4.8" fill="#4c60cf" stroke="#9a9ab8" stroke-width="0.45"/>
<text x="388.5" y="291.0" class="lg" textLength="52.5" lengthAdjust="spacingAndGlyphs">257. 303376 - 398. 638074</text>
<rect x="375.4" y="294.3" width="11.2" height="4.8" fill="#3b52c6" stroke="#9a9ab8" stroke-width="0.45"/>
<text x="388.5" y="298.40000000000003" class="lg" textLength="52.5" lengthAdjust="spacingAndGlyphs">398. 638075 - 614. 597473</text>
<rect x="469.8" y="279.6" width="11.2" height="4.8" fill="#2445b7" stroke="#9a9ab8" stroke-width="0.45"/>
<text x="482.5" y="283.70000000000005" class="lg" textLength="51.7" lengthAdjust="spacingAndGlyphs">614. 597474 - 948. 655591</text>
<rect x="469.8" y="286.9" width="11.2" height="4.8" fill="#1b3dad" stroke="#9a9ab8" stroke-width="0.45"/>
<text x="482.5" y="291.0" class="lg" textLength="53.5" lengthAdjust="spacingAndGlyphs">948. 655592 - 1535. 205371</text>
<rect x="469.8" y="294.3" width="11.2" height="4.8" fill="#11309c" stroke="#9a9ab8" stroke-width="0.45"/>
<text x="482.5" y="298.40000000000003" class="lg" textLength="56" lengthAdjust="spacingAndGlyphs">1535. 205372 - 2272. 429688</text>
</svg>
</body></html>
